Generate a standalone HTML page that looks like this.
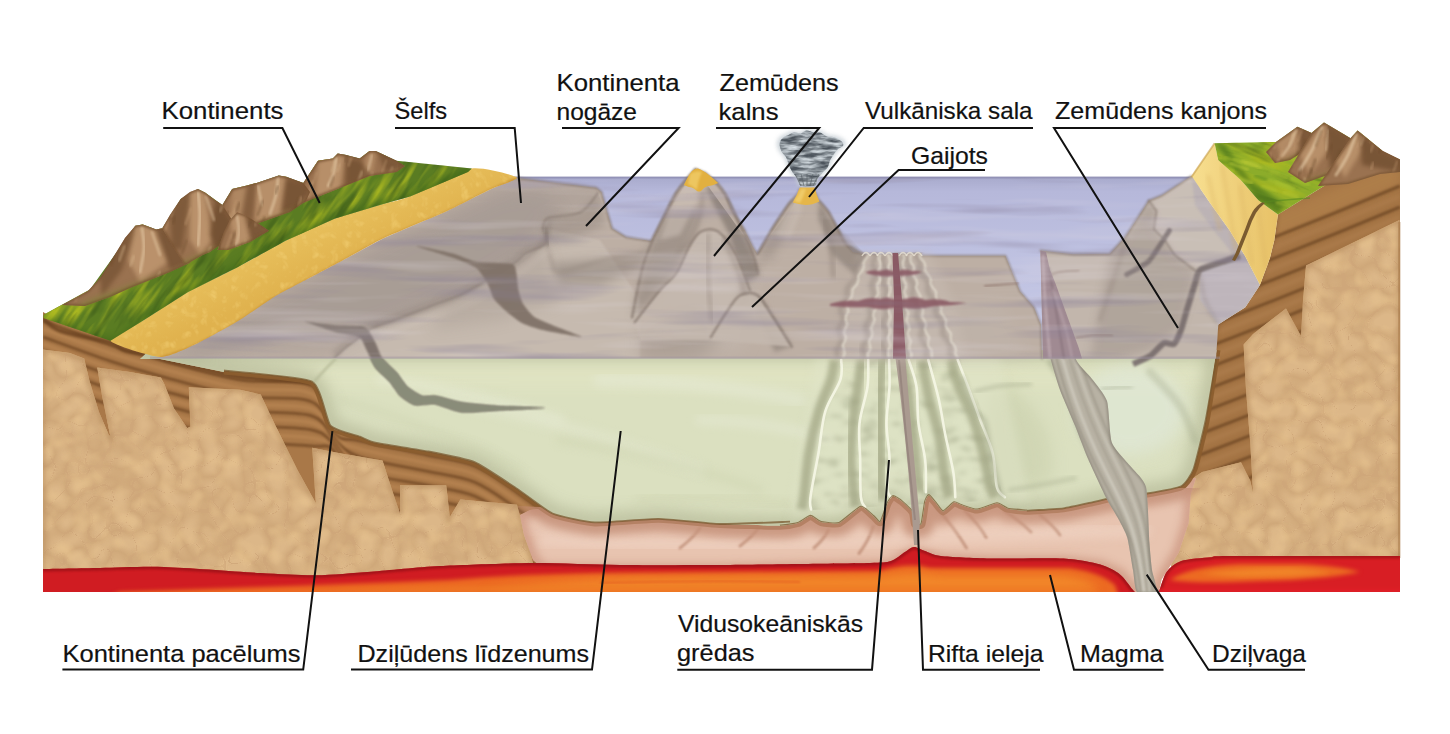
<!DOCTYPE html>
<html><head><meta charset="utf-8">
<style>
html,body{margin:0;padding:0;background:#fff;width:1450px;height:734px;overflow:hidden}
svg{display:block}
text{font-family:"Liberation Sans",sans-serif;font-size:24px;fill:#111;stroke:#111;stroke-width:0.2px}
</style></head>
<body>
<svg width="1450" height="734" viewBox="0 0 1450 734">
<rect width="1450" height="734" fill="#fff"/>
<defs>
<linearGradient id="gMagL" gradientUnits="userSpaceOnUse" x1="0" y1="546" x2="0" y2="592">
 <stop offset="0" stop-color="#a8141c"/><stop offset="0.45" stop-color="#c81a22"/><stop offset="0.62" stop-color="#d82a20"/><stop offset="0.8" stop-color="#ea6a22"/><stop offset="1" stop-color="#f07c26"/></linearGradient>
<linearGradient id="gMagM" gradientUnits="userSpaceOnUse" x1="0" y1="556" x2="0" y2="592">
 <stop offset="0" stop-color="#b0161c"/><stop offset="0.18" stop-color="#d62a20"/><stop offset="0.42" stop-color="#ee7424"/><stop offset="0.7" stop-color="#f28a28"/><stop offset="0.92" stop-color="#ee7a24"/><stop offset="1" stop-color="#e25a20"/></linearGradient>
<linearGradient id="gMagR" gradientUnits="userSpaceOnUse" x1="0" y1="556" x2="0" y2="592">
 <stop offset="0" stop-color="#b0161c"/><stop offset="0.15" stop-color="#d8221e"/><stop offset="0.45" stop-color="#ec6a24"/><stop offset="0.65" stop-color="#e84a22"/><stop offset="1" stop-color="#e01e24"/></linearGradient>
<linearGradient id="gMagX" gradientUnits="userSpaceOnUse" x1="43" y1="0" x2="1400" y2="0">
 <stop offset="0" stop-color="#c8161e" stop-opacity="0.85"/><stop offset="0.15" stop-color="#c8161e" stop-opacity="0.6"/><stop offset="0.3" stop-color="#c8161e" stop-opacity="0"/><stop offset="1" stop-color="#c8161e" stop-opacity="0"/></linearGradient>
<linearGradient id="gWater" gradientUnits="userSpaceOnUse" x1="0" y1="177" x2="0" y2="358">
 <stop offset="0" stop-color="#a8aacc"/><stop offset="0.08" stop-color="#b6b8da"/><stop offset="0.5" stop-color="#c0c3e2"/><stop offset="1" stop-color="#c4c7e5"/></linearGradient>
<linearGradient id="gPink" gradientUnits="userSpaceOnUse" x1="0" y1="505" x2="0" y2="565">
 <stop offset="0" stop-color="#b88068"/><stop offset="0.22" stop-color="#dcae98"/><stop offset="0.55" stop-color="#eac8b6"/><stop offset="0.85" stop-color="#e6c0ac"/><stop offset="1" stop-color="#d0a08a"/></linearGradient>
<linearGradient id="gSand" gradientUnits="userSpaceOnUse" x1="300" y1="230" x2="320" y2="275">
 <stop offset="0" stop-color="#e8c05c"/><stop offset="1" stop-color="#e0b24e"/></linearGradient>
<linearGradient id="gCliff" gradientUnits="userSpaceOnUse" x1="1200" y1="0" x2="1275" y2="0">
 <stop offset="0" stop-color="#f6dc8c"/><stop offset="1" stop-color="#e8c268"/></linearGradient>
<filter color-interpolation-filters="sRGB" id="b1" x="-20%" y="-20%" width="140%" height="140%"><feGaussianBlur stdDeviation="1"/></filter>
<filter color-interpolation-filters="sRGB" id="b2" x="-20%" y="-20%" width="140%" height="140%"><feGaussianBlur stdDeviation="2"/></filter>
<filter color-interpolation-filters="sRGB" id="b4" x="-30%" y="-30%" width="160%" height="160%"><feGaussianBlur stdDeviation="4"/></filter>
<filter color-interpolation-filters="sRGB" id="b8" x="-30%" y="-30%" width="160%" height="160%"><feGaussianBlur stdDeviation="8"/></filter>
<filter color-interpolation-filters="sRGB" id="tanTex" x="0" y="0" width="100%" height="100%" filterUnits="userSpaceOnUse">
 <feTurbulence type="fractalNoise" baseFrequency="0.055" numOctaves="2" seed="11" result="n"/>
 <feColorMatrix in="n" type="matrix" values="0 0 0 0 0.92  0 0 0 0 0.78  0 0 0 0 0.57  1.4 0 0 0 -0.6" result="hi"/>
 <feComposite in="hi" in2="SourceAlpha" operator="in" result="hic"/>
 <feTurbulence type="turbulence" baseFrequency="0.045" numOctaves="1" seed="5" result="n2"/>
 <feColorMatrix in="n2" type="matrix" values="0 0 0 0 0.76  0 0 0 0 0.60  0 0 0 0 0.42  -1.3 0 0 0 0.5" result="lo"/>
 <feComposite in="lo" in2="SourceAlpha" operator="in" result="loc"/>
 <feMerge><feMergeNode in="SourceGraphic"/><feMergeNode in="loc"/><feMergeNode in="hic"/></feMerge>
</filter>
<filter color-interpolation-filters="sRGB" id="sandTex" x="0" y="0" width="100%" height="100%" filterUnits="userSpaceOnUse">
 <feTurbulence type="turbulence" baseFrequency="0.1" numOctaves="2" seed="3" result="n"/>
 <feColorMatrix in="n" type="matrix" values="0 0 0 0 0.96  0 0 0 0 0.83  0 0 0 0 0.48  1.1 0 0 0 -0.3" result="hi"/>
 <feComposite in="hi" in2="SourceAlpha" operator="in" result="hic"/>
 <feMerge><feMergeNode in="SourceGraphic"/><feMergeNode in="hic"/></feMerge>
</filter>
<filter color-interpolation-filters="sRGB" id="smokeTex" x="0" y="0" width="100%" height="100%" filterUnits="userSpaceOnUse">
 <feTurbulence type="fractalNoise" baseFrequency="0.06 0.28" numOctaves="3" seed="9" result="n"/>
 <feColorMatrix in="n" type="matrix" values="0 0 0 0 0.30  0 0 0 0 0.33  0 0 0 0 0.36  -3 0 0 0 1.75" result="dk"/>
 <feComposite in="dk" in2="SourceAlpha" operator="in" result="dkc"/>
 <feColorMatrix in="n" type="matrix" values="0 0 0 0 0.88  0 0 0 0 0.91  0 0 0 0 0.93  3 0 0 0 -1.6" result="lt"/>
 <feComposite in="lt" in2="SourceAlpha" operator="in" result="ltc"/>
 <feMerge><feMergeNode in="SourceGraphic"/><feMergeNode in="dkc"/><feMergeNode in="ltc"/></feMerge>
</filter>
<linearGradient id="gGrass" gradientUnits="userSpaceOnUse" x1="300" y1="190" x2="330" y2="250">
 <stop offset="0" stop-color="#86a828"/><stop offset="0.6" stop-color="#6a9624"/><stop offset="1" stop-color="#4c7a1c"/></linearGradient>
<filter color-interpolation-filters="sRGB" id="streakDark" filterUnits="userSpaceOnUse" x="150" y="177" width="1120" height="182">
 <feTurbulence type="fractalNoise" baseFrequency="0.005 0.06" numOctaves="3" seed="21" result="n"/>
 <feColorMatrix in="n" type="matrix" values="0 0 0 0 0.54  0 0 0 0 0.50  0 0 0 0 0.60  -1.3 0 0 0 0.62"/>
</filter>
<filter color-interpolation-filters="sRGB" id="streakLight" filterUnits="userSpaceOnUse" x="150" y="177" width="1120" height="182">
 <feTurbulence type="fractalNoise" baseFrequency="0.005 0.07" numOctaves="3" seed="4" result="n"/>
 <feColorMatrix in="n" type="matrix" values="0 0 0 0 0.88  0 0 0 0 0.85  0 0 0 0 0.88  0.9 0 0 0 -0.46"/>
</filter>
<clipPath id="cShelf"><path d="M150,358 L196,344 L268,296 L384,238 L490,189.5 L516.8,178 L596,188 L612,228 L651,241 L695,168 L757,254 L806,188 L865,254 L1005,256 L1042,358 Z"/></clipPath>
<linearGradient id="gMtn" gradientUnits="objectBoundingBox" x1="0" y1="0" x2="1" y2="1">
 <stop offset="0" stop-color="#b08a62"/><stop offset="0.5" stop-color="#9c7450"/><stop offset="1" stop-color="#7a5634"/></linearGradient>
<filter color-interpolation-filters="sRGB" id="grassHi" filterUnits="userSpaceOnUse" x="0" y="100" width="600" height="300">
 <feTurbulence type="fractalNoise" baseFrequency="0.015 0.09" numOctaves="3" seed="17" result="n"/>
 <feColorMatrix in="n" type="matrix" values="0 0 0 0 0.68  0 0 0 0 0.73  0 0 0 0 0.13  2.6 0 0 0 -1.15"/>
</filter>
<filter color-interpolation-filters="sRGB" id="grassLo" filterUnits="userSpaceOnUse" x="0" y="100" width="600" height="300">
 <feTurbulence type="fractalNoise" baseFrequency="0.02 0.1" numOctaves="3" seed="31" result="n"/>
 <feColorMatrix in="n" type="matrix" values="0 0 0 0 0.24  0 0 0 0 0.36  0 0 0 0 0.10  -2.4 0 0 0 1.15"/>
</filter>
<filter color-interpolation-filters="sRGB" id="ridgeTex" filterUnits="userSpaceOnUse" x="780" y="350" width="260" height="190">
 <feTurbulence type="fractalNoise" baseFrequency="0.05 0.14" numOctaves="3" seed="41" result="n"/>
 <feColorMatrix in="n" type="matrix" values="0 0 0 0 0.58  0 0 0 0 0.60  0 0 0 0 0.48  -1.8 0 0 0 0.85" result="d"/>
 <feGaussianBlur in="d" stdDeviation="2" result="db"/>
 <feComposite in="db" in2="SourceAlpha" operator="in"/>
</filter>
<clipPath id="cUnder"><rect x="510" y="177" width="690" height="181.5"/><path d="M150,358.5 L160,357 L196,344 L235,320 L268,296 L310.7,277.3 L347.5,257.7 L384,238 L445,212 L490,189.5 L516.8,178 L540,181.5 L600,190 L620,358.5 Z"/><path d="M1040.4,250.6 L1073,254.2 L1108.5,253.3 L1122.7,240 L1129,226.9 L1150.4,200.3 L1171.6,191.4 L1191.6,176 L1210,203 L1230,231 L1245,256 L1260,285 L1245.3,307.2 L1218.3,324.4 L1216,358.5 L1043,358.5 Z"/></clipPath>
<clipPath id="cBelow"><rect x="0" y="358.5" width="1450" height="400"/></clipPath>
</defs>
<rect x="510" y="177" width="690" height="182" fill="url(#gWater)"/>
<rect x="510" y="176.5" width="690" height="2" fill="#8c8cb2" opacity="0.8"/>
<path d="M43.0,312.0 L61.0,322.0 L110.0,336.0 L125.0,344.0 L154.0,350.0 L167.0,354.0 L203.0,362.0 L240.0,369.0 L312.0,379.0 L321.5,390.7 L328.7,410.4 L334.0,430.0 L360.0,436.7 L375.4,442.7 L428.5,451.5 L474.6,462.2 L517.0,488.7 L552.5,513.5 L560.0,530.0 L540.0,566.0 L43.0,574.0 Z" fill="#a97848"/>
<clipPath id="cBrL"><path d="M43.0,312.0 L61.0,322.0 L110.0,336.0 L125.0,344.0 L154.0,350.0 L167.0,354.0 L203.0,362.0 L240.0,369.0 L312.0,379.0 L321.5,390.7 L328.7,410.4 L334.0,430.0 L360.0,436.7 L375.4,442.7 L428.5,451.5 L474.6,462.2 L517.0,488.7 L552.5,513.5 L560.0,530.0 L540.0,566.0 L43.0,574.0 Z"/></clipPath>
<g clip-path="url(#cBrL)">
<path d="M43.0,321.0 C54.2,325.0 90.5,338.5 110.0,345.0 C129.5,351.5 138.3,354.2 160.0,360.0 C181.7,365.8 214.7,375.7 240.0,380.0 C265.3,384.3 296.3,377.1 312.0,386.0 C327.7,394.9 326.0,424.0 334.0,433.2 C342.0,442.4 344.2,437.3 360.0,441.0 C375.8,444.7 409.4,451.3 428.5,455.5 C447.6,459.7 459.9,460.0 474.6,466.2 C489.4,472.4 502.8,483.1 517.0,492.7 C531.2,502.3 552.8,518.8 560.0,524.0" fill="none" stroke="#6a4220" stroke-width="3" opacity="0.7" filter="url(#b1)"/>
<path d="M43.0,329.0 C54.2,333.0 90.5,346.5 110.0,353.0 C129.5,359.5 138.3,362.2 160.0,368.0 C181.7,373.8 214.7,383.7 240.0,388.0 C265.3,392.3 296.3,386.1 312.0,394.0 C327.7,401.9 326.0,426.4 334.0,435.6 C342.0,444.8 344.2,444.4 360.0,449.0 C375.8,453.6 409.4,459.3 428.5,463.5 C447.6,467.7 459.9,468.0 474.6,474.2 C489.4,480.4 502.8,491.1 517.0,500.7 C531.2,510.3 552.8,526.8 560.0,532.0" fill="none" stroke="#c08c58" stroke-width="4" opacity="0.45" filter="url(#b1)"/>
<path d="M43.0,337.0 C54.2,341.0 90.5,354.5 110.0,361.0 C129.5,367.5 138.3,370.2 160.0,376.0 C181.7,381.8 214.7,391.7 240.0,396.0 C265.3,400.3 296.3,395.0 312.0,402.0 C327.7,409.0 326.0,428.8 334.0,438.0 C342.0,447.2 344.2,451.4 360.0,457.0 C375.8,462.6 409.4,467.3 428.5,471.5 C447.6,475.7 459.9,476.0 474.6,482.2 C489.4,488.4 502.8,499.1 517.0,508.7 C531.2,518.3 552.8,534.8 560.0,540.0" fill="none" stroke="#6a4220" stroke-width="3" opacity="0.7" filter="url(#b1)"/>
<path d="M43.0,344.0 C54.2,348.0 90.5,361.5 110.0,368.0 C129.5,374.5 138.3,377.2 160.0,383.0 C181.7,388.8 214.7,398.7 240.0,403.0 C265.3,407.3 296.3,402.8 312.0,409.0 C327.7,415.2 326.0,430.9 334.0,440.1 C342.0,449.3 344.2,457.6 360.0,464.0 C375.8,470.4 409.4,474.3 428.5,478.5 C447.6,482.7 459.9,483.0 474.6,489.2 C489.4,495.4 502.8,506.1 517.0,515.7 C531.2,525.3 552.8,541.8 560.0,547.0" fill="none" stroke="#c08c58" stroke-width="4" opacity="0.45" filter="url(#b1)"/>
<path d="M43.0,351.0 C54.2,355.0 90.5,368.5 110.0,375.0 C129.5,381.5 138.3,384.2 160.0,390.0 C181.7,395.8 214.7,405.7 240.0,410.0 C265.3,414.3 296.3,410.6 312.0,416.0 C327.7,421.4 326.0,433.0 334.0,442.2 C342.0,451.4 344.2,463.8 360.0,471.0 C375.8,478.2 409.4,481.3 428.5,485.5 C447.6,489.7 459.9,490.0 474.6,496.2 C489.4,502.4 502.8,513.1 517.0,522.7 C531.2,532.3 552.8,548.8 560.0,554.0" fill="none" stroke="#6a4220" stroke-width="3" opacity="0.7" filter="url(#b1)"/>
<path d="M43.0,358.0 C54.2,362.0 90.5,375.5 110.0,382.0 C129.5,388.5 138.3,391.2 160.0,397.0 C181.7,402.8 214.7,412.7 240.0,417.0 C265.3,421.3 296.3,418.4 312.0,423.0 C327.7,427.6 326.0,435.1 334.0,444.3 C342.0,453.5 344.2,470.0 360.0,478.0 C375.8,486.0 409.4,488.3 428.5,492.5 C447.6,496.7 459.9,497.0 474.6,503.2 C489.4,509.4 502.8,520.1 517.0,529.7 C531.2,539.3 552.8,555.8 560.0,561.0" fill="none" stroke="#c08c58" stroke-width="4" opacity="0.45" filter="url(#b1)"/>
<path d="M43.0,365.0 C54.2,369.0 90.5,382.5 110.0,389.0 C129.5,395.5 138.3,398.2 160.0,404.0 C181.7,409.8 214.7,419.7 240.0,424.0 C265.3,428.3 296.3,426.3 312.0,430.0 C327.7,433.7 326.0,437.2 334.0,446.4 C342.0,455.6 344.2,476.1 360.0,485.0 C375.8,493.9 409.4,495.3 428.5,499.5 C447.6,503.7 459.9,504.0 474.6,510.2 C489.4,516.4 502.8,527.1 517.0,536.7 C531.2,546.3 552.8,562.8 560.0,568.0" fill="none" stroke="#6a4220" stroke-width="3" opacity="0.7" filter="url(#b1)"/>
<path d="M43.0,373.0 C54.2,377.0 90.5,390.5 110.0,397.0 C129.5,403.5 138.3,406.2 160.0,412.0 C181.7,417.8 214.7,427.7 240.0,432.0 C265.3,436.3 296.3,435.2 312.0,438.0 C327.7,440.8 326.0,439.6 334.0,448.8 C342.0,458.0 344.2,483.2 360.0,493.0 C375.8,502.8 409.4,503.3 428.5,507.5 C447.6,511.7 459.9,512.0 474.6,518.2 C489.4,524.4 502.8,535.1 517.0,544.7 C531.2,554.3 552.8,570.8 560.0,576.0" fill="none" stroke="#c08c58" stroke-width="4" opacity="0.45" filter="url(#b1)"/>
<path d="M43.0,381.0 C54.2,385.0 90.5,398.5 110.0,405.0 C129.5,411.5 138.3,414.2 160.0,420.0 C181.7,425.8 214.7,435.7 240.0,440.0 C265.3,444.3 296.3,444.1 312.0,446.0 C327.7,447.9 326.0,442.0 334.0,451.2 C342.0,460.4 344.2,490.3 360.0,501.0 C375.8,511.7 409.4,511.3 428.5,515.5 C447.6,519.7 459.9,520.0 474.6,526.2 C489.4,532.4 502.8,543.1 517.0,552.7 C531.2,562.3 552.8,578.8 560.0,584.0" fill="none" stroke="#6a4220" stroke-width="3" opacity="0.7" filter="url(#b1)"/>
<path d="M43.0,318.0 C46.0,320.2 49.8,326.9 61.0,331.0 C72.2,335.1 99.6,339.1 110.3,342.4 C121.0,345.7 117.6,348.4 125.0,350.6 C132.4,352.8 147.4,353.9 154.5,355.5 C161.6,357.1 159.4,358.2 167.6,360.4 C175.8,362.6 191.4,365.9 203.5,368.6 C215.6,371.3 221.9,374.5 240.0,376.8 C258.1,379.1 300.0,381.6 312.0,382.5" fill="none" stroke="#6a4220" stroke-width="4" opacity="0.8" filter="url(#b1)"/>
</g>
<path d="M43.0,349.6 L70.0,353.0 L84.2,358.6 L89.0,379.0 L98.9,411.8 L108.7,434.7 L110.3,436.3 L102.0,395.4 L97.2,367.6 L130.0,372.0 L161.0,377.4 L164.3,384.0 L174.0,408.5 L187.2,428.0 L190.4,426.5 L188.8,387.2 L240.0,389.7 L260.7,394.4 L275.4,425.6 L297.4,469.8 L315.8,502.9 L312.2,447.7 L340.0,453.3 L382.5,460.4 L392.0,490.0 L400.0,513.5 L400.0,485.2 L446.2,485.2 L449.8,517.0 L460.4,499.4 L517.0,504.7 L525.0,535.0 L533.0,563.0 L533.0,575.0 L446.0,575.0 L371.0,578.0 L316.0,580.0 L260.0,578.0 L164.0,575.0 L43.0,575.0 Z" fill="#dcb788" filter="url(#tanTex)"/>
<clipPath id="cTanL"><path d="M43.0,349.6 L70.0,353.0 L84.2,358.6 L89.0,379.0 L98.9,411.8 L108.7,434.7 L110.3,436.3 L102.0,395.4 L97.2,367.6 L130.0,372.0 L161.0,377.4 L164.3,384.0 L174.0,408.5 L187.2,428.0 L190.4,426.5 L188.8,387.2 L240.0,389.7 L260.7,394.4 L275.4,425.6 L297.4,469.8 L315.8,502.9 L312.2,447.7 L340.0,453.3 L382.5,460.4 L392.0,490.0 L400.0,513.5 L400.0,485.2 L446.2,485.2 L449.8,517.0 L460.4,499.4 L517.0,504.7 L525.0,535.0 L533.0,563.0 L533.0,575.0 L446.0,575.0 L371.0,578.0 L316.0,580.0 L260.0,578.0 L164.0,575.0 L43.0,575.0 Z"/></clipPath>
<g clip-path="url(#cTanL)">
<path d="M43.0,349.6 L70.0,353.0 L84.2,358.6 L89.0,379.0 L98.9,411.8 L108.7,434.7 L110.3,436.3 L102.0,395.4 L97.2,367.6 L130.0,372.0 L161.0,377.4 L164.3,384.0 L174.0,408.5 L187.2,428.0 L190.4,426.5 L188.8,387.2 L240.0,389.7 L260.7,394.4 L275.4,425.6 L297.4,469.8 L315.8,502.9 L312.2,447.7 L340.0,453.3 L382.5,460.4 L392.0,490.0 L400.0,513.5 L400.0,485.2 L446.2,485.2 L449.8,517.0 L460.4,499.4 L517.0,504.7 L525.0,535.0 L533.0,563.0 L533.0,575.0 L446.0,575.0 L371.0,578.0 L316.0,580.0 L260.0,578.0 L164.0,575.0 L43.0,575.0 Z" fill="none" stroke="#b48a5c" stroke-width="5" opacity="0.55" filter="url(#b2)"/>
</g>
<path d="M1278.0,214.5 L1338.0,177.3 L1382.4,151.6 L1400.0,159.6 L1400.0,560.0 L1175.0,560.0 L1180.0,474.0 L1196.0,420.0 L1210.0,358.0 L1218.3,324.4 L1245.3,307.2 L1260.0,285.0 L1269.9,258.2 L1274.4,240.0 Z" fill="#a47444"/>
<clipPath id="cBrR"><path d="M1278.0,214.5 L1338.0,177.3 L1382.4,151.6 L1400.0,159.6 L1400.0,560.0 L1175.0,560.0 L1180.0,474.0 L1196.0,420.0 L1210.0,358.0 L1218.3,324.4 L1245.3,307.2 L1260.0,285.0 L1269.9,258.2 L1274.4,240.0 Z"/></clipPath>
<g clip-path="url(#cBrR)">
<path d="M1270,215 L1400,160 L1400,185 L1270,240 Z" fill="#b4844e" opacity="0.6" filter="url(#b4)"/>
<path d="M1200,266.0 Q1300,228.0 1400,186.0" fill="none" stroke="#6a4422" stroke-width="3" opacity="0.75" filter="url(#b1)"/>
<path d="M1200,276.0 Q1300,238.0 1400,196.0" fill="none" stroke="#c09060" stroke-width="4" opacity="0.35" filter="url(#b2)"/>
<path d="M1200,287.0 Q1300,249.0 1400,207.0" fill="none" stroke="#6a4422" stroke-width="3" opacity="0.75" filter="url(#b1)"/>
<path d="M1200,297.0 Q1300,259.0 1400,217.0" fill="none" stroke="#c09060" stroke-width="4" opacity="0.35" filter="url(#b2)"/>
<path d="M1200,308.0 Q1300,270.0 1400,228.0" fill="none" stroke="#6a4422" stroke-width="3" opacity="0.75" filter="url(#b1)"/>
<path d="M1200,318.0 Q1300,280.0 1400,238.0" fill="none" stroke="#c09060" stroke-width="4" opacity="0.35" filter="url(#b2)"/>
<path d="M1200,329.0 Q1300,291.0 1400,249.0" fill="none" stroke="#6a4422" stroke-width="3" opacity="0.75" filter="url(#b1)"/>
<path d="M1200,339.0 Q1300,301.0 1400,259.0" fill="none" stroke="#c09060" stroke-width="4" opacity="0.35" filter="url(#b2)"/>
<path d="M1200,350.0 Q1300,312.0 1400,270.0" fill="none" stroke="#6a4422" stroke-width="3" opacity="0.75" filter="url(#b1)"/>
<path d="M1200,360.0 Q1300,322.0 1400,280.0" fill="none" stroke="#c09060" stroke-width="4" opacity="0.35" filter="url(#b2)"/>
<path d="M1200,371.0 Q1300,333.0 1400,291.0" fill="none" stroke="#6a4422" stroke-width="3" opacity="0.75" filter="url(#b1)"/>
<path d="M1200,381.0 Q1300,343.0 1400,301.0" fill="none" stroke="#c09060" stroke-width="4" opacity="0.35" filter="url(#b2)"/>
<path d="M1200,392.0 Q1300,354.0 1400,312.0" fill="none" stroke="#6a4422" stroke-width="3" opacity="0.75" filter="url(#b1)"/>
<path d="M1200,402.0 Q1300,364.0 1400,322.0" fill="none" stroke="#c09060" stroke-width="4" opacity="0.35" filter="url(#b2)"/>
<path d="M1200,413.0 Q1300,375.0 1400,333.0" fill="none" stroke="#6a4422" stroke-width="3" opacity="0.75" filter="url(#b1)"/>
<path d="M1200,423.0 Q1300,385.0 1400,343.0" fill="none" stroke="#c09060" stroke-width="4" opacity="0.35" filter="url(#b2)"/>
<path d="M1200,434.0 Q1300,396.0 1400,354.0" fill="none" stroke="#6a4422" stroke-width="3" opacity="0.75" filter="url(#b1)"/>
<path d="M1200,444.0 Q1300,406.0 1400,364.0" fill="none" stroke="#c09060" stroke-width="4" opacity="0.35" filter="url(#b2)"/>
<path d="M1200,455.0 Q1300,417.0 1400,375.0" fill="none" stroke="#6a4422" stroke-width="3" opacity="0.75" filter="url(#b1)"/>
<path d="M1200,465.0 Q1300,427.0 1400,385.0" fill="none" stroke="#c09060" stroke-width="4" opacity="0.35" filter="url(#b2)"/>
<path d="M1200,476.0 Q1300,438.0 1400,396.0" fill="none" stroke="#6a4422" stroke-width="3" opacity="0.75" filter="url(#b1)"/>
<path d="M1200,486.0 Q1300,448.0 1400,406.0" fill="none" stroke="#c09060" stroke-width="4" opacity="0.35" filter="url(#b2)"/>
<path d="M1200,497.0 Q1300,459.0 1400,417.0" fill="none" stroke="#6a4422" stroke-width="3" opacity="0.75" filter="url(#b1)"/>
<path d="M1200,507.0 Q1300,469.0 1400,427.0" fill="none" stroke="#c09060" stroke-width="4" opacity="0.35" filter="url(#b2)"/>
<path d="M1270,215 L1278,214.5 L1274,240 L1260,285 L1218,325 L1205,420 L1193,474 L1185,474 L1200,420 L1210,325 L1250,285 Z" fill="#6a4422" opacity="0.5" filter="url(#b2)"/>
</g>
<path d="M1306.0,265.6 L1399.4,220.0 L1400.0,575.0 L1170.0,578.0 L1178.0,488.6 L1202.0,472.0 L1241.0,462.3 L1250.0,480.0 L1253.0,492.0 L1250.0,440.0 L1246.0,390.0 L1243.6,344.5 L1253.0,334.0 L1286.0,308.4 L1301.0,336.0 L1303.0,300.0 Z" fill="#dcb788" filter="url(#tanTex)"/>
<clipPath id="cTanR"><path d="M1306.0,265.6 L1399.4,220.0 L1400.0,575.0 L1170.0,578.0 L1178.0,488.6 L1202.0,472.0 L1241.0,462.3 L1250.0,480.0 L1253.0,492.0 L1250.0,440.0 L1246.0,390.0 L1243.6,344.5 L1253.0,334.0 L1286.0,308.4 L1301.0,336.0 L1303.0,300.0 Z"/></clipPath>
<g clip-path="url(#cTanR)">
<path d="M1306.0,265.6 L1399.4,220.0 L1400.0,575.0 L1170.0,578.0 L1178.0,488.6 L1202.0,472.0 L1241.0,462.3 L1250.0,480.0 L1253.0,492.0 L1250.0,440.0 L1246.0,390.0 L1243.6,344.5 L1253.0,334.0 L1286.0,308.4 L1301.0,336.0 L1303.0,300.0 Z" fill="none" stroke="#b48a5c" stroke-width="5" opacity="0.5" filter="url(#b2)"/>
</g>
<rect x="1398" y="222" width="2.5" height="336" fill="#a87a4a" opacity="0.5"/>
<path d="M530.0,510.0 L600.0,500.0 L1040.0,490.0 L1146.0,478.0 L1196.0,478.0 L1190.8,493.7 L1188.6,523.0 L1178.8,552.4 L1161.6,579.4 L1159.0,592.0 L1134.0,592.0 L1132.0,589.0 L1120.0,574.4 L1100.3,566.0 L1063.5,562.0 L990.0,562.0 L940.8,560.0 L914.0,551.0 L891.0,566.0 L720.0,570.0 L620.0,570.0 L545.0,570.0 L533.0,560.0 L524.0,535.0 L520.0,515.0 Z" fill="#e8c4b0"/>
<clipPath id="cPink"><path d="M530.0,510.0 L600.0,500.0 L1040.0,490.0 L1146.0,478.0 L1196.0,478.0 L1190.8,493.7 L1188.6,523.0 L1178.8,552.4 L1161.6,579.4 L1159.0,592.0 L1134.0,592.0 L1132.0,589.0 L1120.0,574.4 L1100.3,566.0 L1063.5,562.0 L990.0,562.0 L940.8,560.0 L914.0,551.0 L891.0,566.0 L720.0,570.0 L620.0,570.0 L545.0,570.0 L533.0,560.0 L524.0,535.0 L520.0,515.0 Z"/></clipPath>
<g clip-path="url(#cPink)">
<path d="M530.0,510.0 L600.0,500.0 L1040.0,490.0 L1146.0,478.0 L1196.0,478.0 L1190.8,493.7 L1188.6,523.0 L1178.8,552.4 L1161.6,579.4 L1159.0,592.0 L1134.0,592.0 L1132.0,589.0 L1120.0,574.4 L1100.3,566.0 L1063.5,562.0 L990.0,562.0 L940.8,560.0 L914.0,551.0 L891.0,566.0 L720.0,570.0 L620.0,570.0 L545.0,570.0 L533.0,560.0 L524.0,535.0 L520.0,515.0 Z" fill="none" stroke="#c8907a" stroke-width="12" opacity="0.7" filter="url(#b4)"/>
<path d="M540,540 Q700,548 880,540 Q1000,535 1150,530" fill="none" stroke="#f0d4c4" stroke-width="14" opacity="0.6" filter="url(#b4)"/>
</g>
<path d="M828.4,530.2 Q824.2,539.1 814,548" fill="none" stroke="#b07a62" stroke-width="3" opacity="0.6" stroke-linecap="round" filter="url(#b1)"/>
<path d="M873.2,526.6 Q869.1,540.05 859,553.5" fill="none" stroke="#b07a62" stroke-width="3" opacity="0.6" stroke-linecap="round" filter="url(#b1)"/>
<path d="M936,507 Q954.25,527.5 966.5,548" fill="none" stroke="#b07a62" stroke-width="3" opacity="0.6" stroke-linecap="round" filter="url(#b1)"/>
<path d="M964.7,510.5 Q978.45,523.95 986.2,537.4" fill="none" stroke="#b07a62" stroke-width="3" opacity="0.6" stroke-linecap="round" filter="url(#b1)"/>
<path d="M1004,510.5 Q1020.5,521.25 1031,532" fill="none" stroke="#b07a62" stroke-width="3" opacity="0.6" stroke-linecap="round" filter="url(#b1)"/>
<path d="M700,528 Q693.0,538.0 680,548" fill="none" stroke="#b07a62" stroke-width="3" opacity="0.6" stroke-linecap="round" filter="url(#b1)"/>
<path d="M760,526 Q753.0,536.0 740,546" fill="none" stroke="#b07a62" stroke-width="3" opacity="0.6" stroke-linecap="round" filter="url(#b1)"/>
<path d="M1040,515 Q1053.0,525.0 1060,535" fill="none" stroke="#b07a62" stroke-width="3" opacity="0.6" stroke-linecap="round" filter="url(#b1)"/>
<path d="M530,525 Q700,535 900,530 Q1000,528 1100,520" fill="none" stroke="#f2d8c8" stroke-width="10" opacity="0.35" filter="url(#b8)"/>
<path d="M1216.5,350.0 C1215.6,355.8 1207.6,410.1 1205.7,420.0 C1203.8,429.9 1195.5,463.5 1193.5,469.0 C1191.5,474.5 1185.1,484.2 1181.2,486.2 C1177.3,488.2 1152.9,492.5 1147.0,493.5 C1141.1,494.5 1114.5,497.7 1110.0,498.4 C1105.5,499.1 1096.9,501.3 1093.0,502.1 C1089.1,502.9 1069.0,507.6 1063.5,508.3 C1058.0,509.0 1031.5,510.7 1026.8,510.7 C1022.1,510.7 1010.2,509.3 1007.7,508.7 C1005.2,508.1 999.5,503.2 997.0,503.3 C994.5,503.4 980.2,509.5 977.2,509.6 C974.2,509.8 963.0,505.7 961.1,505.1 C959.2,504.5 955.5,501.9 954.0,502.4 C952.5,502.9 944.7,511.3 943.2,511.4 C941.7,511.5 937.2,504.7 936.0,503.3 C934.8,501.9 929.7,495.3 928.8,495.2 C927.9,495.1 925.8,499.1 925.2,501.5 C924.6,503.9 922.4,522.1 921.5,524.0 C920.6,525.9 915.7,525.0 915.0,524.0 C914.3,523.0 913.8,514.2 912.7,512.3 C911.6,510.4 903.6,502.9 902.0,501.5 C900.4,500.1 894.2,496.0 893.0,496.1 C891.8,496.2 888.6,501.1 887.6,503.3 C886.6,505.5 881.6,521.1 880.4,522.1 C879.2,523.1 874.8,517.2 873.2,515.9 C871.6,514.6 863.5,506.3 860.7,506.9 C857.9,507.5 842.5,521.7 839.2,523.0 C835.9,524.3 823.6,522.7 821.2,522.1 C818.8,521.5 812.4,515.8 810.5,515.9 C808.6,516.0 800.5,522.2 798.0,523.0 C795.5,523.8 786.5,525.6 780.0,525.7 C773.5,525.8 730.1,524.6 720.0,524.0 C709.9,523.4 669.1,518.9 658.7,518.8 C648.3,518.7 603.9,522.8 595.0,522.4 C586.1,522.0 559.0,516.3 552.5,513.5 C546.0,510.7 523.5,493.0 517.0,488.7 C510.5,484.4 482.0,465.3 474.6,462.2 C467.2,459.1 436.8,453.1 428.5,451.5 C420.2,449.9 381.1,443.9 375.4,442.7 C369.7,441.5 363.7,438.1 360.0,436.7 C356.3,435.3 334.5,430.2 330.5,425.6 C326.5,421.0 320.9,386.1 312.0,381.5 C303.1,376.9 231.3,371.4 224.0,370.5" fill="none" stroke="#8a5c2e" stroke-width="8" opacity="0.9"/>
<clipPath id="cPinkBand"><path d="M518,506 L560,508 L1180,488 L1200,488 L1200,600 L518,600 Z"/></clipPath>
<g clip-path="url(#cPinkBand)">
<path d="M150,350 L1216.5,350  C1215.6,355.8 1207.6,410.1 1205.7,420.0 C1203.8,429.9 1195.5,463.5 1193.5,469.0 C1191.5,474.5 1185.1,484.2 1181.2,486.2 C1177.3,488.2 1152.9,492.5 1147.0,493.5 C1141.1,494.5 1114.5,497.7 1110.0,498.4 C1105.5,499.1 1096.9,501.3 1093.0,502.1 C1089.1,502.9 1069.0,507.6 1063.5,508.3 C1058.0,509.0 1031.5,510.7 1026.8,510.7 C1022.1,510.7 1010.2,509.3 1007.7,508.7 C1005.2,508.1 999.5,503.2 997.0,503.3 C994.5,503.4 980.2,509.5 977.2,509.6 C974.2,509.8 963.0,505.7 961.1,505.1 C959.2,504.5 955.5,501.9 954.0,502.4 C952.5,502.9 944.7,511.3 943.2,511.4 C941.7,511.5 937.2,504.7 936.0,503.3 C934.8,501.9 929.7,495.3 928.8,495.2 C927.9,495.1 925.8,499.1 925.2,501.5 C924.6,503.9 922.4,522.1 921.5,524.0 C920.6,525.9 915.7,525.0 915.0,524.0 C914.3,523.0 913.8,514.2 912.7,512.3 C911.6,510.4 903.6,502.9 902.0,501.5 C900.4,500.1 894.2,496.0 893.0,496.1 C891.8,496.2 888.6,501.1 887.6,503.3 C886.6,505.5 881.6,521.1 880.4,522.1 C879.2,523.1 874.8,517.2 873.2,515.9 C871.6,514.6 863.5,506.3 860.7,506.9 C857.9,507.5 842.5,521.7 839.2,523.0 C835.9,524.3 823.6,522.7 821.2,522.1 C818.8,521.5 812.4,515.8 810.5,515.9 C808.6,516.0 800.5,522.2 798.0,523.0 C795.5,523.8 786.5,525.6 780.0,525.7 C773.5,525.8 730.1,524.6 720.0,524.0 C709.9,523.4 669.1,518.9 658.7,518.8 C648.3,518.7 603.9,522.8 595.0,522.4 C586.1,522.0 559.0,516.3 552.5,513.5 C546.0,510.7 523.5,493.0 517.0,488.7 C510.5,484.4 482.0,465.3 474.6,462.2 C467.2,459.1 436.8,453.1 428.5,451.5 C420.2,449.9 381.1,443.9 375.4,442.7 C369.7,441.5 363.7,438.1 360.0,436.7 C356.3,435.3 334.5,430.2 330.5,425.6 C326.5,421.0 320.9,386.1 312.0,381.5 C303.1,376.9 231.3,371.4 224.0,370.5 L224,372 L160,359 L140,359 L150,350 Z" fill="none" stroke="#c08a72" stroke-width="26" opacity="0.75" filter="url(#b4)"/>
</g>
<path d="M150,350 L1216.5,350  C1215.6,355.8 1207.6,410.1 1205.7,420.0 C1203.8,429.9 1195.5,463.5 1193.5,469.0 C1191.5,474.5 1185.1,484.2 1181.2,486.2 C1177.3,488.2 1152.9,492.5 1147.0,493.5 C1141.1,494.5 1114.5,497.7 1110.0,498.4 C1105.5,499.1 1096.9,501.3 1093.0,502.1 C1089.1,502.9 1069.0,507.6 1063.5,508.3 C1058.0,509.0 1031.5,510.7 1026.8,510.7 C1022.1,510.7 1010.2,509.3 1007.7,508.7 C1005.2,508.1 999.5,503.2 997.0,503.3 C994.5,503.4 980.2,509.5 977.2,509.6 C974.2,509.8 963.0,505.7 961.1,505.1 C959.2,504.5 955.5,501.9 954.0,502.4 C952.5,502.9 944.7,511.3 943.2,511.4 C941.7,511.5 937.2,504.7 936.0,503.3 C934.8,501.9 929.7,495.3 928.8,495.2 C927.9,495.1 925.8,499.1 925.2,501.5 C924.6,503.9 922.4,522.1 921.5,524.0 C920.6,525.9 915.7,525.0 915.0,524.0 C914.3,523.0 913.8,514.2 912.7,512.3 C911.6,510.4 903.6,502.9 902.0,501.5 C900.4,500.1 894.2,496.0 893.0,496.1 C891.8,496.2 888.6,501.1 887.6,503.3 C886.6,505.5 881.6,521.1 880.4,522.1 C879.2,523.1 874.8,517.2 873.2,515.9 C871.6,514.6 863.5,506.3 860.7,506.9 C857.9,507.5 842.5,521.7 839.2,523.0 C835.9,524.3 823.6,522.7 821.2,522.1 C818.8,521.5 812.4,515.8 810.5,515.9 C808.6,516.0 800.5,522.2 798.0,523.0 C795.5,523.8 786.5,525.6 780.0,525.7 C773.5,525.8 730.1,524.6 720.0,524.0 C709.9,523.4 669.1,518.9 658.7,518.8 C648.3,518.7 603.9,522.8 595.0,522.4 C586.1,522.0 559.0,516.3 552.5,513.5 C546.0,510.7 523.5,493.0 517.0,488.7 C510.5,484.4 482.0,465.3 474.6,462.2 C467.2,459.1 436.8,453.1 428.5,451.5 C420.2,449.9 381.1,443.9 375.4,442.7 C369.7,441.5 363.7,438.1 360.0,436.7 C356.3,435.3 334.5,430.2 330.5,425.6 C326.5,421.0 320.9,386.1 312.0,381.5 C303.1,376.9 231.3,371.4 224.0,370.5 L224,372 L160,359 L140,359 L150,350 Z" fill="#dbe0c0"/>
<clipPath id="cGreen"><path d="M150,350 L1216.5,350  C1215.6,355.8 1207.6,410.1 1205.7,420.0 C1203.8,429.9 1195.5,463.5 1193.5,469.0 C1191.5,474.5 1185.1,484.2 1181.2,486.2 C1177.3,488.2 1152.9,492.5 1147.0,493.5 C1141.1,494.5 1114.5,497.7 1110.0,498.4 C1105.5,499.1 1096.9,501.3 1093.0,502.1 C1089.1,502.9 1069.0,507.6 1063.5,508.3 C1058.0,509.0 1031.5,510.7 1026.8,510.7 C1022.1,510.7 1010.2,509.3 1007.7,508.7 C1005.2,508.1 999.5,503.2 997.0,503.3 C994.5,503.4 980.2,509.5 977.2,509.6 C974.2,509.8 963.0,505.7 961.1,505.1 C959.2,504.5 955.5,501.9 954.0,502.4 C952.5,502.9 944.7,511.3 943.2,511.4 C941.7,511.5 937.2,504.7 936.0,503.3 C934.8,501.9 929.7,495.3 928.8,495.2 C927.9,495.1 925.8,499.1 925.2,501.5 C924.6,503.9 922.4,522.1 921.5,524.0 C920.6,525.9 915.7,525.0 915.0,524.0 C914.3,523.0 913.8,514.2 912.7,512.3 C911.6,510.4 903.6,502.9 902.0,501.5 C900.4,500.1 894.2,496.0 893.0,496.1 C891.8,496.2 888.6,501.1 887.6,503.3 C886.6,505.5 881.6,521.1 880.4,522.1 C879.2,523.1 874.8,517.2 873.2,515.9 C871.6,514.6 863.5,506.3 860.7,506.9 C857.9,507.5 842.5,521.7 839.2,523.0 C835.9,524.3 823.6,522.7 821.2,522.1 C818.8,521.5 812.4,515.8 810.5,515.9 C808.6,516.0 800.5,522.2 798.0,523.0 C795.5,523.8 786.5,525.6 780.0,525.7 C773.5,525.8 730.1,524.6 720.0,524.0 C709.9,523.4 669.1,518.9 658.7,518.8 C648.3,518.7 603.9,522.8 595.0,522.4 C586.1,522.0 559.0,516.3 552.5,513.5 C546.0,510.7 523.5,493.0 517.0,488.7 C510.5,484.4 482.0,465.3 474.6,462.2 C467.2,459.1 436.8,453.1 428.5,451.5 C420.2,449.9 381.1,443.9 375.4,442.7 C369.7,441.5 363.7,438.1 360.0,436.7 C356.3,435.3 334.5,430.2 330.5,425.6 C326.5,421.0 320.9,386.1 312.0,381.5 C303.1,376.9 231.3,371.4 224.0,370.5 L224,372 L160,359 L140,359 L150,350 Z"/></clipPath>
<g clip-path="url(#cGreen)">
<rect x="150" y="358" width="1070" height="30" fill="#e4e6c4" opacity="0.5" filter="url(#b8)"/>
<path d="M150,350 L1216.5,350  C1215.6,355.8 1207.6,410.1 1205.7,420.0 C1203.8,429.9 1195.5,463.5 1193.5,469.0 C1191.5,474.5 1185.1,484.2 1181.2,486.2 C1177.3,488.2 1152.9,492.5 1147.0,493.5 C1141.1,494.5 1114.5,497.7 1110.0,498.4 C1105.5,499.1 1096.9,501.3 1093.0,502.1 C1089.1,502.9 1069.0,507.6 1063.5,508.3 C1058.0,509.0 1031.5,510.7 1026.8,510.7 C1022.1,510.7 1010.2,509.3 1007.7,508.7 C1005.2,508.1 999.5,503.2 997.0,503.3 C994.5,503.4 980.2,509.5 977.2,509.6 C974.2,509.8 963.0,505.7 961.1,505.1 C959.2,504.5 955.5,501.9 954.0,502.4 C952.5,502.9 944.7,511.3 943.2,511.4 C941.7,511.5 937.2,504.7 936.0,503.3 C934.8,501.9 929.7,495.3 928.8,495.2 C927.9,495.1 925.8,499.1 925.2,501.5 C924.6,503.9 922.4,522.1 921.5,524.0 C920.6,525.9 915.7,525.0 915.0,524.0 C914.3,523.0 913.8,514.2 912.7,512.3 C911.6,510.4 903.6,502.9 902.0,501.5 C900.4,500.1 894.2,496.0 893.0,496.1 C891.8,496.2 888.6,501.1 887.6,503.3 C886.6,505.5 881.6,521.1 880.4,522.1 C879.2,523.1 874.8,517.2 873.2,515.9 C871.6,514.6 863.5,506.3 860.7,506.9 C857.9,507.5 842.5,521.7 839.2,523.0 C835.9,524.3 823.6,522.7 821.2,522.1 C818.8,521.5 812.4,515.8 810.5,515.9 C808.6,516.0 800.5,522.2 798.0,523.0 C795.5,523.8 786.5,525.6 780.0,525.7 C773.5,525.8 730.1,524.6 720.0,524.0 C709.9,523.4 669.1,518.9 658.7,518.8 C648.3,518.7 603.9,522.8 595.0,522.4 C586.1,522.0 559.0,516.3 552.5,513.5 C546.0,510.7 523.5,493.0 517.0,488.7 C510.5,484.4 482.0,465.3 474.6,462.2 C467.2,459.1 436.8,453.1 428.5,451.5 C420.2,449.9 381.1,443.9 375.4,442.7 C369.7,441.5 363.7,438.1 360.0,436.7 C356.3,435.3 334.5,430.2 330.5,425.6 C326.5,421.0 320.9,386.1 312.0,381.5 C303.1,376.9 231.3,371.4 224.0,370.5 L224,372 L160,359 L140,359 L150,350 Z" fill="none" stroke="#aeb290" stroke-width="16" opacity="0.75" filter="url(#b8)"/>
<path d="M380,380 Q470.0,390.0 560,420" fill="none" stroke="#e6ead2" stroke-width="10" opacity="0.6" stroke-linecap="round" filter="url(#b4)"/>
<path d="M450,400 Q575.0,425.0 700,470" fill="none" stroke="#e4e8d0" stroke-width="12" opacity="0.5" stroke-linecap="round" filter="url(#b4)"/>
<path d="M600,380 Q700.0,380.0 800,400" fill="none" stroke="#e6ead6" stroke-width="14" opacity="0.5" stroke-linecap="round" filter="url(#b4)"/>
<path d="M560,440 Q660.0,455.0 760,490" fill="none" stroke="#cdd2ae" stroke-width="8" opacity="0.45" stroke-linecap="round" filter="url(#b4)"/>
<path d="M700,420 Q765.0,420.0 830,440" fill="none" stroke="#e6ead6" stroke-width="10" opacity="0.5" stroke-linecap="round" filter="url(#b4)"/>
<path d="M340,400 Q430.0,425.0 520,470" fill="none" stroke="#c8ceaa" stroke-width="6" opacity="0.4" stroke-linecap="round" filter="url(#b4)"/>
<path d="M640,500 Q715.0,492.5 790,505" fill="none" stroke="#ccd0ac" stroke-width="8" opacity="0.4" stroke-linecap="round" filter="url(#b4)"/>
<ellipse cx="1130" cy="410" rx="55" ry="45" fill="#e0e8d8" opacity="0.7" filter="url(#b8)"/>
<path d="M1000,380 Q1060,420 1050,480 L1000,500 Q980,440 990,400 Z" fill="#c6cca8" opacity="0.5" filter="url(#b8)"/>
<path d="M815,358 L1000,358 L1030,500 L790,520 Z" fill="#e0e4c8" opacity="0.5" filter="url(#b4)"/>
<path d="M842,358 L960,358 Q990,420 1003,500 L810,510 Q820,420 842,358 Z" fill="#fff" filter="url(#ridgeTex)"/>
<path d="M834.7,359.8 C834.1,363.1 833.6,370.8 831.0,379.4 C828.4,388.0 822.5,399.0 818.8,411.3 C815.1,423.6 811.5,438.7 809.0,453.0 C806.5,467.3 805.2,487.6 804.0,497.0 C802.8,506.4 802.0,507.3 801.6,509.4" fill="none" stroke="#9a9e7c" stroke-width="10" opacity="0.65" filter="url(#b2)"/>
<path d="M861.7,359.8 C861.1,364.3 859.5,376.2 858.0,386.8 C856.5,397.4 854.2,411.3 853.0,423.6 C851.8,435.9 850.5,448.1 850.7,460.4 C850.9,472.7 853.6,489.4 854.4,497.2 C855.2,505.0 855.4,505.4 855.6,507.0" fill="none" stroke="#9a9e7c" stroke-width="10" opacity="0.65" filter="url(#b2)"/>
<path d="M882.6,359.8 C882.2,364.3 880.4,376.2 880.0,386.8 C879.6,397.4 880.0,411.7 880.0,423.6 C880.0,435.5 879.8,446.9 880.0,458.0 C880.2,469.1 880.3,483.0 881.0,490.0 C881.7,497.0 883.5,498.3 884.0,500.0" fill="none" stroke="#9a9e7c" stroke-width="10" opacity="0.65" filter="url(#b2)"/>
<path d="M902.2,359.8 C903.0,364.3 905.4,376.2 907.0,386.8 C908.6,397.4 910.5,411.3 912.0,423.6 C913.5,435.9 914.5,448.9 915.7,460.4 C916.9,471.8 918.8,487.0 919.4,492.3" fill="none" stroke="#9a9e7c" stroke-width="10" opacity="0.65" filter="url(#b2)"/>
<path d="M921.8,359.8 C923.0,366.3 926.3,386.3 929.2,399.0 C932.1,411.7 936.5,423.5 939.0,435.8 C941.5,448.1 942.3,462.4 943.9,472.6 C945.5,482.8 948.0,493.1 948.8,497.2" fill="none" stroke="#9a9e7c" stroke-width="10" opacity="0.65" filter="url(#b2)"/>
<path d="M951.2,359.8 C952.4,364.3 954.9,377.0 958.6,386.8 C962.3,396.6 969.2,407.7 973.3,418.7 C977.4,429.7 980.2,441.6 983.1,453.0 C986.0,464.4 988.5,480.0 990.5,487.4 C992.5,494.8 994.6,495.6 995.4,497.2" fill="none" stroke="#9a9e7c" stroke-width="10" opacity="0.65" filter="url(#b2)"/>
<path d="M841.2,359.8 C841.1,363.1 843.1,370.8 840.5,379.4 C837.9,388.0 829.0,399.0 825.3,411.3 C821.6,423.6 821.0,438.7 818.5,453.0 C816.0,467.3 811.7,487.6 810.5,497.0 C809.3,506.4 811.0,507.3 811.1,509.4" fill="none" stroke="#f4f6e4" stroke-width="2.6" opacity="0.95" stroke-linecap="round"/>
<path d="M868.2,359.8 C868.1,364.3 869.0,376.2 867.5,386.8 C866.0,397.4 860.7,411.3 859.5,423.6 C858.3,435.9 860.0,448.1 860.2,460.4 C860.4,472.7 860.1,489.4 860.9,497.2 C861.7,505.0 864.4,505.4 865.1,507.0" fill="none" stroke="#f4f6e4" stroke-width="2.6" opacity="0.95" stroke-linecap="round"/>
<path d="M889.1,359.8 C889.2,364.3 889.9,376.2 889.5,386.8 C889.1,397.4 886.5,411.7 886.5,423.6 C886.5,435.5 889.3,446.9 889.5,458.0 C889.7,469.1 886.8,483.0 887.5,490.0 C888.2,497.0 892.5,498.3 893.5,500.0" fill="none" stroke="#f4f6e4" stroke-width="2.6" opacity="0.95" stroke-linecap="round"/>
<path d="M908.7,359.8 C910.0,364.3 914.9,376.2 916.5,386.8 C918.1,397.4 917.0,411.3 918.5,423.6 C920.0,435.9 924.0,448.9 925.2,460.4 C926.4,471.8 925.8,487.0 925.9,492.3" fill="none" stroke="#f4f6e4" stroke-width="2.6" opacity="0.95" stroke-linecap="round"/>
<path d="M928.3,359.8 C930.0,366.3 935.8,386.3 938.7,399.0 C941.6,411.7 943.0,423.5 945.5,435.8 C948.0,448.1 951.8,462.4 953.4,472.6 C955.0,482.8 955.0,493.1 955.3,497.2" fill="none" stroke="#f4f6e4" stroke-width="2.6" opacity="0.95" stroke-linecap="round"/>
<path d="M957.7,359.8 C959.4,364.3 964.4,377.0 968.1,386.8 C971.8,396.6 975.7,407.7 979.8,418.7 C983.9,429.7 989.7,441.6 992.6,453.0 C995.5,464.4 995.0,480.0 997.0,487.4 C999.0,494.8 1003.6,495.6 1004.9,497.2" fill="none" stroke="#f4f6e4" stroke-width="2.6" opacity="0.95" stroke-linecap="round"/>
<path d="M974.7,391.5 C978.9,390.6 990.6,387.2 1000.0,386.0 C1009.4,384.8 1025.8,384.3 1031.0,384.0" fill="none" stroke="#8e9478" stroke-width="2" opacity="0.6" stroke-linecap="round" filter="url(#b2)"/>
<path d="M1102.0,389.0 C1104.7,388.7 1113.1,387.4 1118.0,387.0 C1122.9,386.6 1129.3,386.7 1131.6,386.6" fill="none" stroke="#8e9478" stroke-width="2" opacity="0.6" stroke-linecap="round" filter="url(#b2)"/>
<path d="M962.0,378.0 C964.2,383.3 971.2,402.8 975.0,410.0 C978.8,417.2 982.0,414.3 984.5,421.0 C987.0,427.7 988.0,440.7 990.0,450.0 C992.0,459.3 994.8,469.2 996.8,477.0 C998.8,484.8 1000.9,493.7 1001.7,497.0" fill="none" stroke="#9ea488" stroke-width="5" opacity="0.45" stroke-linecap="round" filter="url(#b2)"/>
<path d="M1050.0,362.0 C1053.0,366.7 1063.0,378.7 1068.0,390.0 C1073.0,401.3 1075.5,418.3 1080.0,430.0 C1084.5,441.7 1092.5,455.0 1095.0,460.0" fill="none" stroke="#9ea488" stroke-width="6" opacity="0.5" stroke-linecap="round" filter="url(#b2)"/>
<path d="M1150.0,372.0 C1155.0,377.7 1172.5,394.7 1180.0,406.0 C1187.5,417.3 1192.5,434.3 1195.0,440.0" fill="none" stroke="#a6ac8e" stroke-width="8" opacity="0.35" stroke-linecap="round" filter="url(#b2)"/>
<path d="M1010.0,490.0 C1015.0,489.2 1029.2,487.0 1040.0,485.0 C1050.8,483.0 1069.2,479.2 1075.0,478.0" fill="none" stroke="#a6ac8e" stroke-width="4" opacity="0.45" stroke-linecap="round" filter="url(#b2)"/>
<path d="M780.0,525.7 C781.5,525.5 795.5,523.8 798.0,523.0 C800.5,522.2 808.6,516.0 810.5,515.9 C812.4,515.8 818.8,521.5 821.2,522.1 C823.6,522.7 835.9,524.3 839.2,523.0 C842.5,521.7 857.9,507.5 860.7,506.9 C863.5,506.3 871.6,514.6 873.2,515.9 C874.8,517.2 879.2,523.1 880.4,522.1 C881.6,521.1 886.6,505.5 887.6,503.3 C888.6,501.1 891.8,496.2 893.0,496.1 C894.2,496.0 900.4,500.1 902.0,501.5 C903.6,502.9 911.6,510.4 912.7,512.3 C913.8,514.2 914.3,523.0 915.0,524.0 C915.7,525.0 920.6,525.9 921.5,524.0 C922.4,522.1 924.6,503.9 925.2,501.5 C925.8,499.1 927.9,495.1 928.8,495.2 C929.7,495.3 934.8,501.9 936.0,503.3 C937.2,504.7 941.7,511.5 943.2,511.4 C944.7,511.3 952.5,502.9 954.0,502.4 C955.5,501.9 959.2,504.5 961.1,505.1 C963.0,505.7 974.2,509.8 977.2,509.6 C980.2,509.5 994.5,503.4 997.0,503.3 C999.5,503.2 1005.2,508.1 1007.7,508.7 C1010.2,509.3 1025.2,510.5 1026.8,510.7" fill="none" stroke="#7a5a30" stroke-width="2.2" opacity="0.75"/>
</g>
<path d="M224.0,370.5 C231.3,371.4 303.1,376.9 312.0,381.5 C320.9,386.1 326.5,421.0 330.5,425.6 C334.5,430.2 356.3,435.3 360.0,436.7 C363.7,438.1 369.7,441.5 375.4,442.7 C381.1,443.9 420.2,449.9 428.5,451.5 C436.8,453.1 467.2,459.1 474.6,462.2 C482.0,465.3 510.5,484.4 517.0,488.7 C523.5,493.0 546.0,510.7 552.5,513.5 C559.0,516.3 586.1,522.0 595.0,522.4 C603.9,522.8 648.3,518.7 658.7,518.8 C669.1,518.9 709.1,523.8 720.0,524.0 C730.9,524.2 784.2,521.9 790.0,521.7" fill="none" stroke="#7a5a30" stroke-width="1.8" opacity="0.75"/>
<path d="M1026.8,510.7 C1029.9,510.5 1058.0,509.0 1063.5,508.3 C1069.0,507.6 1089.1,502.9 1093.0,502.1 C1096.9,501.3 1105.5,499.1 1110.0,498.4 C1114.5,497.7 1141.1,494.5 1147.0,493.5 C1152.9,492.5 1177.3,488.2 1181.2,486.2 C1185.1,484.2 1191.5,474.5 1193.5,469.0 C1195.5,463.5 1203.8,429.2 1205.7,420.0 C1207.6,410.8 1215.6,363.2 1216.5,358.0" fill="none" stroke="#7a5a30" stroke-width="1.8" opacity="0.75"/>
<path d="M895.5,358 L905.3,358 Q912,440 920,521.7 L918,545 L914,545 Q908,450 895.5,358 Z" fill="#aa9a90"/>
<path d="M899,360 Q906,440 915,520" fill="none" stroke="#8c7c74" stroke-width="2" opacity="0.6"/>
<clipPath id="cTop592"><rect x="0" y="0" width="1450" height="592"/></clipPath>
<g clip-path="url(#cTop592)">
<path d="M1044.0,330.0 C1046.4,327.0 1071.8,327.0 1075.0,330.0 C1078.2,333.0 1074.3,354.7 1076.0,359.6 C1077.7,364.5 1088.9,374.9 1092.0,379.0 C1095.1,383.1 1105.0,394.6 1107.0,401.0 C1109.0,407.4 1109.5,436.4 1112.0,443.0 C1114.5,449.6 1128.2,463.1 1131.6,467.5 C1135.0,471.9 1144.2,479.5 1146.0,487.0 C1147.8,494.5 1148.8,534.3 1149.4,542.6 C1150.0,550.9 1151.3,565.1 1152.0,570.0 C1152.7,574.9 1158.2,589.8 1156.7,592.0 C1155.2,594.2 1139.4,594.2 1137.0,592.0 C1134.6,589.8 1134.0,575.4 1133.0,570.0 C1132.0,564.6 1128.7,542.7 1127.3,537.7 C1125.9,532.7 1121.0,523.8 1119.0,520.0 C1117.0,516.2 1110.2,505.6 1107.0,499.4 C1103.8,493.2 1090.7,465.1 1087.5,457.7 C1084.3,450.3 1077.8,432.6 1075.0,425.8 C1072.2,419.0 1062.4,396.6 1060.0,390.0 C1057.6,383.4 1052.3,365.6 1050.7,359.6 C1049.1,353.6 1041.6,333.0 1044.0,330.0 Z" fill="#b8b2a4"/>
</g>
<clipPath id="cSlab"><path d="M1044.0,330.0 C1046.4,327.0 1071.8,327.0 1075.0,330.0 C1078.2,333.0 1074.3,354.7 1076.0,359.6 C1077.7,364.5 1088.9,374.9 1092.0,379.0 C1095.1,383.1 1105.0,394.6 1107.0,401.0 C1109.0,407.4 1109.5,436.4 1112.0,443.0 C1114.5,449.6 1128.2,463.1 1131.6,467.5 C1135.0,471.9 1144.2,479.5 1146.0,487.0 C1147.8,494.5 1148.8,534.3 1149.4,542.6 C1150.0,550.9 1151.3,565.1 1152.0,570.0 C1152.7,574.9 1158.2,589.8 1156.7,592.0 C1155.2,594.2 1139.4,594.2 1137.0,592.0 C1134.6,589.8 1134.0,575.4 1133.0,570.0 C1132.0,564.6 1128.7,542.7 1127.3,537.7 C1125.9,532.7 1121.0,523.8 1119.0,520.0 C1117.0,516.2 1110.2,505.6 1107.0,499.4 C1103.8,493.2 1090.7,465.1 1087.5,457.7 C1084.3,450.3 1077.8,432.6 1075.0,425.8 C1072.2,419.0 1062.4,396.6 1060.0,390.0 C1057.6,383.4 1052.3,365.6 1050.7,359.6 C1049.1,353.6 1041.6,333.0 1044.0,330.0 Z"/></clipPath>
<g clip-path="url(#cTop592)"><g clip-path="url(#cSlab)">
<path d="M1050,330 C1060,380 1078.0,430 1098.0,470 S1134.0,530 1141.0,592" fill="none" stroke="#8e887a" stroke-width="2" opacity="0.6" filter="url(#b1)"/>
<path d="M1056,330 C1066,380 1085.2,430 1105.2,470 S1137.6,530 1144.0,592" fill="none" stroke="#d4d0c4" stroke-width="3" opacity="0.7" filter="url(#b1)"/>
<path d="M1063,330 C1073,380 1093.6,430 1113.6,470 S1141.8,530 1147.5,592" fill="none" stroke="#9a9486" stroke-width="1.5" opacity="0.6" filter="url(#b1)"/>
<path d="M1068,330 C1078,380 1099.6,430 1119.6,470 S1144.8,530 1150.0,592" fill="none" stroke="#d0ccbf" stroke-width="2.5" opacity="0.6" filter="url(#b1)"/>
<path d="M1073,330 C1083,380 1105.6,430 1125.6,470 S1147.8,530 1152.5,592" fill="none" stroke="#8e887a" stroke-width="2" opacity="0.5" filter="url(#b1)"/>
<path d="M1044.0,330.0 C1046.4,327.0 1071.8,327.0 1075.0,330.0 C1078.2,333.0 1074.3,354.7 1076.0,359.6 C1077.7,364.5 1088.9,374.9 1092.0,379.0 C1095.1,383.1 1105.0,394.6 1107.0,401.0 C1109.0,407.4 1109.5,436.4 1112.0,443.0 C1114.5,449.6 1128.2,463.1 1131.6,467.5 C1135.0,471.9 1144.2,479.5 1146.0,487.0 C1147.8,494.5 1148.8,534.3 1149.4,542.6 C1150.0,550.9 1151.3,565.1 1152.0,570.0 C1152.7,574.9 1158.2,589.8 1156.7,592.0 C1155.2,594.2 1139.4,594.2 1137.0,592.0 C1134.6,589.8 1134.0,575.4 1133.0,570.0 C1132.0,564.6 1128.7,542.7 1127.3,537.7 C1125.9,532.7 1121.0,523.8 1119.0,520.0 C1117.0,516.2 1110.2,505.6 1107.0,499.4 C1103.8,493.2 1090.7,465.1 1087.5,457.7 C1084.3,450.3 1077.8,432.6 1075.0,425.8 C1072.2,419.0 1062.4,396.6 1060.0,390.0 C1057.6,383.4 1052.3,365.6 1050.7,359.6 C1049.1,353.6 1041.6,333.0 1044.0,330.0 Z" fill="none" stroke="#7e786c" stroke-width="3" opacity="0.6" filter="url(#b1)"/>
</g></g>
<path d="M150.0,358.0 L160.0,357.0 L196.0,344.0 L235.0,320.0 L268.0,296.0 L310.7,277.3 L347.5,257.7 L384.0,238.0 L445.0,212.0 L490.0,189.5 L516.8,178.0 L540.0,181.0 L596.2,187.7 L601.5,192.0 L606.8,210.8 L612.1,228.5 L626.3,237.3 L651.0,240.9 L665.3,214.3 L676.0,193.0 L684.8,182.4 L695.3,168.6 L704.9,172.5 L716.3,182.0 L725.5,194.7 L731.6,209.7 L745.0,230.6 L752.5,246.0 L757.5,254.0 L773.5,226.8 L788.8,204.0 L796.4,196.3 L800.2,187.7 L812.6,187.7 L819.3,201.0 L828.5,212.0 L838.4,230.6 L845.7,243.8 L853.0,252.0 L865.0,254.5 L880.0,254.5 L921.6,252.9 L921.6,255.8 L1005.5,255.8 L1020.0,291.3 L1034.0,307.3 L1041.0,325.0 L1042.0,358.5 Z" fill="#bdafa4"/>
<g clip-path="url(#cShelf)">
<path d="M160,357 L196,344 L268,296 L384,238 L490,189.5 L516.8,178 L596,188 L600,200 L545,222 L525,252 L480,282 L430,305 L370,327 L305,322 L250,340 L200,358 Z" fill="#8e8482" opacity="0.28" filter="url(#b8)"/>
<path d="M334.0,358.5 C335.8,356.8 341.3,351.1 345.0,348.0 C348.7,344.9 351.6,343.3 356.0,340.0 C360.4,336.7 364.4,332.0 371.7,328.3 C379.0,324.6 389.7,321.9 400.0,318.0 C410.3,314.1 423.5,308.8 433.5,305.0 C443.5,301.2 451.6,298.8 460.0,295.0 C468.4,291.2 474.6,287.4 483.7,282.0 C492.8,276.6 507.6,267.5 514.6,262.7 C521.6,257.9 520.9,256.2 526.0,253.0 C531.1,249.8 542.6,247.6 545.5,243.4 C548.4,239.2 543.8,230.6 543.5,228.0 L600,240 L640,300 L640,358.5 L334,358.5 Z" fill="#c8bcb2" opacity="0.85" filter="url(#b1)"/>
<path d="M334.0,358.5 C335.8,356.8 341.3,351.1 345.0,348.0 C348.7,344.9 351.6,343.3 356.0,340.0 C360.4,336.7 364.4,332.0 371.7,328.3 C379.0,324.6 389.7,321.9 400.0,318.0 C410.3,314.1 423.5,308.8 433.5,305.0 C443.5,301.2 451.6,298.8 460.0,295.0 C468.4,291.2 474.6,287.4 483.7,282.0 C492.8,276.6 507.6,267.5 514.6,262.7 C521.6,257.9 520.9,256.2 526.0,253.0 C531.1,249.8 542.6,247.6 545.5,243.4 C548.4,239.2 543.8,230.6 543.5,228.0" fill="none" stroke="#7e726c" stroke-width="2" opacity="0.55" filter="url(#b1)"/>
<path d="M334.0,354.5 C335.8,352.8 341.3,347.1 345.0,344.0 C348.7,340.9 351.6,339.3 356.0,336.0 C360.4,332.7 364.4,328.0 371.7,324.3 C379.0,320.6 389.7,317.9 400.0,314.0 C410.3,310.1 423.5,304.8 433.5,301.0 C443.5,297.2 451.6,294.8 460.0,291.0 C468.4,287.2 474.6,283.4 483.7,278.0 C492.8,272.6 507.6,263.5 514.6,258.7 C521.6,253.9 520.9,252.2 526.0,249.0 C531.1,245.8 542.6,243.6 545.5,239.4 C548.4,235.2 543.8,226.6 543.5,224.0" fill="none" stroke="#8a7e78" stroke-width="6" opacity="0.35" filter="url(#b2)"/>
<path d="M150,358 L200,340 L300,290 L400,240 L500,195 L540,190 L560,215 L520,260 L420,310 L330,350 Z" fill="#9c928e" opacity="0.35" filter="url(#b8)"/>
<path d="M680,290 L720,240 L760,300 L740,350 L680,350 Z" fill="#c4bab2" opacity="0.5" filter="url(#b8)"/>
</g>
<path d="M516.8,178.0 L540.0,181.0 L596.2,187.7 L601.5,192.0 L606.8,210.8 L612.1,228.5 L626.3,237.3 L651.0,240.9" fill="none" stroke="#86786f" stroke-width="2" opacity="0.8" stroke-linecap="round" stroke-linejoin="round" filter="url(#b1)"/>
<path d="M543.0,228.5 C543.9,226.7 542.1,220.5 548.3,217.8 C554.5,215.1 571.9,216.6 580.2,212.5 C588.5,208.4 595.0,196.2 598.0,193.0" fill="none" stroke="#86786f" stroke-width="2.2" opacity="0.6" stroke-linecap="round" stroke-linejoin="round" filter="url(#b1)"/>
<path d="M546.6,244.0 C547.5,247.0 549.8,257.3 552.0,262.0 C554.2,266.7 550.6,272.6 560.0,272.0 C569.4,271.4 594.6,261.7 608.6,258.6 C622.6,255.5 638.1,254.2 644.0,253.3" fill="none" stroke="#86786f" stroke-width="2.5" opacity="0.45" stroke-linecap="round" stroke-linejoin="round" filter="url(#b2)"/>
<path d="M546.0,228.0 C546.3,230.8 547.7,242.2 548.0,245.0" fill="none" stroke="#86786f" stroke-width="3" opacity="0.5" stroke-linecap="round" stroke-linejoin="round" filter="url(#b1)"/>
<path d="M373.0,327.4 C385.5,323.2 429.0,309.7 448.0,302.0 C467.0,294.3 475.8,287.0 486.8,281.0 C497.8,275.0 504.3,272.5 513.8,266.0 C523.3,259.5 537.8,249.5 543.8,242.0 C549.8,234.5 548.8,224.5 549.8,221.0" fill="none" stroke="#86786f" stroke-width="3" opacity="0.5" stroke-linecap="round" stroke-linejoin="round" filter="url(#b2)"/>
<path d="M380.0,335.0 C392.5,330.8 435.8,317.5 455.0,310.0 C474.2,302.5 484.2,296.0 495.0,290.0 C505.8,284.0 510.8,280.7 520.0,274.0 C529.2,267.3 545.0,254.0 550.0,250.0" fill="none" stroke="#d0c4ba" stroke-width="4" opacity="0.5" stroke-linecap="round" stroke-linejoin="round" filter="url(#b2)"/>
<g clip-path="url(#cShelf)">
<path d="M712.0,180.0 L731.0,210.0 L752.0,253.0 L760.0,275.0 L745.0,282.0 L728.0,232.0 L706.0,190.0 Z" fill="#857a72" opacity="0.75" filter="url(#b2)"/>
<path d="M665.0,214.0 L644.0,261.0 L632.0,317.0 L652.0,300.0 L676.0,273.0 L690.0,240.0 L700.0,212.0 Z" fill="#857a72" opacity="0.5" filter="url(#b4)"/>
<path d="M819.0,201.0 L838.0,230.0 L865.0,256.0 L855.0,275.0 L833.0,255.0 L818.0,218.0 Z" fill="#857a72" opacity="0.6" filter="url(#b2)"/>
<path d="M788.0,204.0 L773.0,227.0 L757.0,254.0 L770.0,262.0 L785.0,235.0 L795.0,210.0 Z" fill="#857a72" opacity="0.35" filter="url(#b4)"/>
<path d="M598.0,193.0 L580.0,212.0 L548.0,218.0 L543.0,228.0 L546.0,244.0 L575.0,240.0 L605.0,225.0 Z" fill="#857a72" opacity="0.35" filter="url(#b4)"/>
<path d="M552.0,262.0 L608.0,258.0 L644.0,253.0 L651.0,241.0 L640.0,270.0 L600.0,285.0 L560.0,285.0 Z" fill="#857a72" opacity="0.45" filter="url(#b4)"/>
<path d="M448.0,302.0 L513.0,266.0 L543.0,242.0 L560.0,300.0 L500.0,320.0 L430.0,330.0 Z" fill="#857a72" opacity="0.2" filter="url(#b8)"/>
<path d="M752.0,296.0 L760.0,296.0 L792.0,346.0 L775.0,352.0 L760.0,320.0 Z" fill="#857a72" opacity="0.55" filter="url(#b2)"/>
<path d="M640.0,330.0 L700.0,300.0 L720.0,340.0 L700.0,358.0 L640.0,358.0 Z" fill="#857a72" opacity="0.3" filter="url(#b8)"/>
<path d="M695.0,170.0 L684.0,183.0 L670.0,210.0 L660.0,240.0 L680.0,235.0 L698.0,200.0 Z" fill="#d2c6bc" opacity="0.5" filter="url(#b2)"/>
<path d="M800.0,190.0 L790.0,205.0 L775.0,235.0 L790.0,240.0 L802.0,210.0 Z" fill="#d2c6bc" opacity="0.45" filter="url(#b2)"/>
</g>
<path d="M651.0,240.9 L665.3,214.3 L676.0,193.0 L684.8,182.4 L695.3,168.6 L704.9,172.5 L716.3,182.0 L725.5,194.7 L731.6,209.7 L745.0,230.6 L752.5,246.0 L757.5,254.0 L773.5,226.8 L788.8,204.0 L796.4,196.3 L800.2,187.7" fill="none" stroke="#86786f" stroke-width="1.8" opacity="0.7" stroke-linecap="round" stroke-linejoin="round" filter="url(#b1)"/>
<path d="M812.6,187.7 L819.3,201.0 L828.5,212.0 L838.4,230.6 L845.7,243.8 L853.0,252.0 L865.0,254.5 L880.0,254.5" fill="none" stroke="#86786f" stroke-width="1.8" opacity="0.7" stroke-linecap="round" stroke-linejoin="round" filter="url(#b1)"/>
<path d="M695.3,170.0 C693.4,172.0 687.2,178.2 684.0,182.0 C680.8,185.8 679.2,187.7 676.0,193.0 C672.8,198.3 670.2,202.7 665.0,214.0 C659.8,225.3 650.0,243.8 644.5,261.0 C639.0,278.2 634.1,308.0 632.0,317.4" fill="none" stroke="#86786f" stroke-width="2.5" opacity="0.75" stroke-linecap="round" stroke-linejoin="round" filter="url(#b1)"/>
<path d="M704.0,174.0 C706.0,175.5 712.4,179.6 716.0,183.0 C719.6,186.4 721.5,187.7 725.5,194.7 C729.5,201.7 735.5,215.2 740.0,225.0 C744.5,234.8 749.6,245.6 752.5,253.6 C755.4,261.6 756.6,269.8 757.4,273.0" fill="none" stroke="#86786f" stroke-width="3" opacity="0.75" stroke-linecap="round" stroke-linejoin="round" filter="url(#b1)"/>
<path d="M703.0,192.0 C702.5,195.8 702.2,207.0 700.0,215.0 C697.8,223.0 693.7,233.7 690.0,240.0 C686.3,246.3 680.0,250.8 678.0,253.0" fill="none" stroke="#86786f" stroke-width="3" opacity="0.45" stroke-linecap="round" stroke-linejoin="round" filter="url(#b2)"/>
<path d="M634.7,322.3 Q660,290 676.4,273.2 Q690,245 701,231.5 L718,231.5 Q728,240 735.3,253.6 L750,290.4 L740,340 L640,340 Z" fill="#c6bab0" opacity="0.85" filter="url(#b1)"/>
<path d="M634.7,322.3 C638.9,316.9 653.0,298.2 660.0,290.0 C667.0,281.8 671.4,280.7 676.4,273.2 C681.4,265.7 685.9,251.9 690.0,245.0 C694.1,238.1 696.3,233.8 701.0,231.5 C705.7,229.2 712.3,227.8 718.0,231.5 C723.7,235.2 730.0,243.8 735.3,253.6 C740.6,263.4 747.5,284.3 750.0,290.4" fill="none" stroke="#86786f" stroke-width="2.4" opacity="0.75" stroke-linecap="round" stroke-linejoin="round" filter="url(#b1)"/>
<path d="M708.0,235.0 C708.0,242.5 707.3,265.8 708.0,280.0 C708.7,294.2 711.3,313.3 712.0,320.0" fill="none" stroke="#86786f" stroke-width="4" opacity="0.35" stroke-linecap="round" stroke-linejoin="round" filter="url(#b2)"/>
<path d="M725.0,240.0 C727.5,245.8 736.7,265.0 740.0,275.0 C743.3,285.0 744.2,295.8 745.0,300.0" fill="none" stroke="#86786f" stroke-width="6" opacity="0.35" stroke-linecap="round" stroke-linejoin="round" filter="url(#b2)"/>
<path d="M757.5,254.0 C760.2,249.5 768.3,235.1 773.5,226.8 C778.7,218.5 785.0,209.1 788.8,204.0 C792.6,198.9 795.1,197.6 796.4,196.3" fill="none" stroke="#86786f" stroke-width="2.4" opacity="0.65" stroke-linecap="round" stroke-linejoin="round" filter="url(#b1)"/>
<path d="M819.3,201.0 C820.8,202.8 825.3,207.1 828.5,212.0 C831.7,216.9 835.5,225.3 838.4,230.6 C841.3,235.9 841.2,239.6 845.7,243.8 C850.2,248.0 862.0,254.0 865.3,256.0" fill="none" stroke="#86786f" stroke-width="2.4" opacity="0.65" stroke-linecap="round" stroke-linejoin="round" filter="url(#b1)"/>
<path d="M801.5,215.0 C801.5,219.3 801.5,231.3 801.5,241.0 C801.5,250.7 801.5,267.7 801.5,273.0" fill="none" stroke="#86786f" stroke-width="5" opacity="0.4" stroke-linecap="round" stroke-linejoin="round" filter="url(#b2)"/>
<path d="M825.0,220.0 C826.0,224.8 829.6,239.4 831.0,248.7 C832.4,258.0 833.0,271.2 833.4,275.7" fill="none" stroke="#86786f" stroke-width="5" opacity="0.4" stroke-linecap="round" stroke-linejoin="round" filter="url(#b2)"/>
<path d="M760.0,260.0 C757.5,265.0 749.2,280.0 745.0,290.0 C740.8,300.0 736.7,315.0 735.0,320.0" fill="none" stroke="#86786f" stroke-width="6" opacity="0.3" stroke-linecap="round" stroke-linejoin="round" filter="url(#b4)"/>
<path d="M710.8,340 Q728,310 740.2,295.3 L757.4,295.3 Q775,320 791.7,346.8 Z" fill="#c4b8ae" opacity="0.9" filter="url(#b1)"/>
<path d="M710.8,337.0 C713.7,332.5 723.1,316.9 728.0,310.0 C732.9,303.1 735.3,297.8 740.2,295.3 C745.1,292.9 751.6,291.2 757.4,295.3 C763.2,299.4 769.3,311.4 775.0,320.0 C780.7,328.6 788.9,342.3 791.7,346.8" fill="none" stroke="#86786f" stroke-width="2.4" opacity="0.75" stroke-linecap="round" stroke-linejoin="round" filter="url(#b1)"/>
<path d="M752.0,300.0 C752.0,308.3 752.0,341.7 752.0,350.0" fill="none" stroke="#86786f" stroke-width="4" opacity="0.3" stroke-linecap="round" stroke-linejoin="round" filter="url(#b2)"/>
<path d="M921.6,255.8 L1005.5,255.8 L1020.0,291.3 L1034.0,307.3 L1041.0,325.0 L1042.0,358.5" fill="none" stroke="#86786f" stroke-width="2" opacity="0.7" stroke-linecap="round" stroke-linejoin="round" filter="url(#b1)"/>
<path d="M868.0,254.5 L921.6,252.9" fill="none" stroke="#86786f" stroke-width="2" opacity="0.5" stroke-linecap="round" stroke-linejoin="round" filter="url(#b1)"/>
<path d="M985.0,286.0 C990.5,285.5 1012.5,283.5 1018.0,283.0" fill="none" stroke="#8a7068" stroke-width="2" opacity="0.7" stroke-linecap="round" stroke-linejoin="round" filter="url(#b1)"/>
<path d="M850,300 L1000,300 L1030,358 L850,358 Z" fill="#c2b8b0" opacity="0.35" filter="url(#b8)"/>
<path d="M1040.4,250.6 L1073.0,254.2 L1109.9,253.7 L1125.4,236.9 L1148.7,200.7 L1161.6,195.5 L1191.6,176.0 L1210.0,203.0 L1230.0,231.0 L1245.0,256.0 L1260.0,285.0 L1245.3,307.2 L1218.3,324.4 L1216.0,358.5 L1043.0,358.5 Z" fill="#c2b6ac"/>
<clipPath id="cWall"><path d="M1040.4,250.6 L1073.0,254.2 L1109.9,253.7 L1125.4,236.9 L1148.7,200.7 L1161.6,195.5 L1191.6,176.0 L1210.0,203.0 L1230.0,231.0 L1245.0,256.0 L1260.0,285.0 L1245.3,307.2 L1218.3,324.4 L1216.0,358.5 L1043.0,358.5 Z"/></clipPath>
<g clip-path="url(#cWall)">
<path d="M1110,254 L1125,237 L1149,201 L1156,211 L1154,229 L1164,240 L1175,255 L1195,271 L1186,311 L1179,329 L1150,350 L1120,358 L1090,358 Z" fill="#9c9088" opacity="0.45" filter="url(#b4)"/>
<path d="M1149,201 L1162,196 L1191,176 L1210,203 L1230,231 L1232,262 L1200,270 L1175,255 L1164,240 L1154,229 L1156,211 Z" fill="#d0c6c0" opacity="0.55" filter="url(#b2)"/>
<path d="M1200,268 L1232,262 L1245,256 L1260,285 L1245.3,307.2 L1218.3,324.4 L1200,300 Z" fill="#bdb6c0" opacity="0.8" filter="url(#b1)"/>
<path d="M1191.6,176 L1210,203 L1230,231 L1245,256 L1238,260 L1215,232 L1195,205 Z" fill="#b4acb4" opacity="0.6" filter="url(#b1)"/>
</g>
<path d="M1040.4,250.6 L1073.0,254.2 L1109.9,253.7 L1125.4,236.9 L1148.7,200.7 L1161.6,195.5 L1191.6,176.0" fill="none" stroke="#86786f" stroke-width="2" opacity="0.75" stroke-linecap="round" stroke-linejoin="round" filter="url(#b1)"/>
<path d="M1148.7,200.7 L1156.4,211.0 L1153.8,229.2 L1164.2,239.5 L1174.5,255.0 L1195.2,270.6" fill="none" stroke="#86786f" stroke-width="2.2" opacity="0.6" stroke-linecap="round" stroke-linejoin="round" filter="url(#b1)"/>
<path d="M1125.4,237.0 C1124.5,240.8 1122.6,251.2 1120.0,260.0 C1117.4,268.8 1113.3,280.0 1110.0,290.0 C1106.7,300.0 1101.7,315.0 1100.0,320.0" fill="none" stroke="#86786f" stroke-width="4" opacity="0.3" stroke-linecap="round" stroke-linejoin="round" filter="url(#b2)"/>
<path d="M1218.0,324.0 C1215.8,320.0 1208.0,308.2 1205.0,300.0 C1202.0,291.8 1200.8,279.2 1200.0,275.0" fill="none" stroke="#86786f" stroke-width="3" opacity="0.35" stroke-linecap="round" stroke-linejoin="round" filter="url(#b2)"/>
<path d="M1047.8,275.7 C1049.8,275.1 1054.8,272.9 1060.0,272.0 C1065.2,271.1 1075.7,270.8 1078.8,270.6" fill="none" stroke="#8a7068" stroke-width="1.5" opacity="0.65" stroke-linecap="round" stroke-linejoin="round" filter="url(#b1)"/>
<path d="M1076.0,337.8 C1079.2,337.3 1088.9,335.4 1095.0,335.0 C1101.1,334.6 1109.5,335.2 1112.4,335.2" fill="none" stroke="#8a7068" stroke-width="1.5" opacity="0.65" stroke-linecap="round" stroke-linejoin="round" filter="url(#b1)"/>
<path d="M1040.4,250.6 L1046,252 L1050,270 L1055.5,283.6 L1065,310 L1078.8,348 L1082,358.5 L1043,358.5 Z" fill="#a08a92"/>
<path d="M1043.0,256.0 C1043.3,263.3 1043.8,283.0 1045.0,300.0 C1046.2,317.0 1049.2,348.3 1050.0,358.0" fill="none" stroke="#c8b4ba" stroke-width="3" opacity="0.6" stroke-linecap="round" stroke-linejoin="round" filter="url(#b1)"/>
<path d="M1049.0,268.0 C1050.2,275.0 1053.5,295.0 1056.0,310.0 C1058.5,325.0 1062.7,350.0 1064.0,358.0" fill="none" stroke="#7c6870" stroke-width="2" opacity="0.55" stroke-linecap="round" stroke-linejoin="round" filter="url(#b1)"/>
<path d="M1053.0,290.0 C1055.2,296.7 1062.8,318.7 1066.0,330.0 C1069.2,341.3 1071.0,353.3 1072.0,358.0" fill="none" stroke="#c0acb2" stroke-width="2.5" opacity="0.5" stroke-linecap="round" stroke-linejoin="round" filter="url(#b1)"/>
<path d="M860,254 L930,254 Q960,300 965,358 L835,358 Q845,300 860,254 Z" fill="#c8bcb2" opacity="0.5" filter="url(#b4)"/>
<path d="M864.4,254.0 L863.1,258.3 L859.2,262.7 L856.0,267.0 L855.8,271.3 L856.4,275.7 L854.5,280.0 L849.9,284.6 L847.1,289.2 L847.3,293.8 L847.0,298.4 L843.4,303.0 L840.9,307.2 L840.8,311.5 L842.7,315.7 L843.4,319.9 L841.4,324.2 L838.9,328.4 L838.9,332.6 L840.9,336.8 L841.5,341.1 L839.3,345.3 L836.9,349.5 L837.1,353.8 L838.0,358.0" fill="none" stroke="#857870" stroke-width="5" opacity="0.4" filter="url(#b2)"/>
<path d="M876.9,254.0 L874.9,258.3 L872.8,262.7 L873.4,267.0 L875.6,271.3 L876.0,275.7 L873.6,280.0 L871.4,284.6 L872.4,289.2 L874.0,293.8 L872.7,298.4 L869.6,303.0 L868.6,307.2 L870.1,311.5 L871.1,315.7 L869.3,319.9 L866.4,324.2 L865.6,328.4 L867.2,332.6 L868.1,336.8 L866.1,341.1 L863.3,345.3 L862.6,349.5 L864.2,353.8 L863.0,358.0" fill="none" stroke="#857870" stroke-width="5" opacity="0.4" filter="url(#b2)"/>
<path d="M884.7,254.0 L882.5,258.2 L882.5,262.4 L884.8,266.5 L886.4,270.7 L885.1,274.9 L883.0,279.1 L883.0,283.3 L885.3,287.5 L886.8,291.6 L885.6,295.8 L883.4,300.0 L883.2,304.1 L885.3,308.3 L886.8,312.4 L885.5,316.6 L883.2,320.7 L882.8,324.9 L884.8,329.0 L886.4,333.1 L885.3,337.3 L882.9,341.4 L882.4,345.6 L884.3,349.7 L886.0,353.9 L884.0,358.0" fill="none" stroke="#857870" stroke-width="5" opacity="0.4" filter="url(#b2)"/>
<path d="M896.8,254.0 L896.4,258.2 L898.6,262.4 L900.7,266.5 L900.2,270.7 L898.2,274.9 L897.7,279.1 L899.9,283.3 L902.1,287.5 L901.6,291.6 L899.5,295.8 L899.1,300.0 L901.3,304.1 L903.6,308.3 L903.3,312.4 L901.3,316.6 L900.8,320.7 L903.0,324.9 L905.3,329.0 L905.2,333.1 L903.2,337.3 L902.6,341.4 L904.6,345.6 L907.1,349.7 L907.1,353.9 L906.0,358.0" fill="none" stroke="#857870" stroke-width="5" opacity="0.4" filter="url(#b2)"/>
<path d="M903.0,254.0 L905.5,258.2 L908.5,262.4 L909.2,266.5 L907.9,270.7 L907.6,274.9 L910.0,279.1 L913.1,283.3 L913.8,287.5 L912.4,291.6 L912.1,295.8 L914.5,300.0 L917.5,304.1 L918.3,308.3 L916.9,312.4 L916.4,316.6 L918.7,320.7 L921.7,324.9 L922.7,329.0 L921.3,333.1 L920.7,337.3 L922.8,341.4 L925.9,345.6 L927.0,349.7 L925.7,353.9 L927.0,358.0" fill="none" stroke="#857870" stroke-width="5" opacity="0.4" filter="url(#b2)"/>
<path d="M914.1,254.0 L918.0,258.2 L920.1,262.4 L919.6,266.5 L919.6,270.7 L922.2,274.9 L926.2,279.1 L928.3,283.3 L927.8,287.5 L927.8,291.6 L930.4,295.8 L934.4,300.0 L936.3,304.1 L935.7,308.3 L935.3,312.4 L937.7,316.6 L941.4,320.7 L943.4,324.9 L942.9,329.0 L942.5,333.1 L944.7,337.3 L948.4,341.4 L950.6,345.6 L950.2,349.7 L949.7,353.9 L953.0,358.0" fill="none" stroke="#857870" stroke-width="5" opacity="0.4" filter="url(#b2)"/>
<path d="M869.3,254.0 L866.3,258.3 L863.4,262.7 L864.0,267.0 L861.9,271.3 L858.3,275.7 L858.5,280.0 L856.9,284.6 L852.6,289.2 L852.4,293.8 L851.0,298.4 L846.7,303.0 L847.6,307.2 L848.5,311.5 L846.0,315.7 L845.7,319.9 L847.4,324.2 L845.5,328.4 L844.0,332.6 L845.9,336.8 L845.2,341.1 L842.8,345.3 L844.1,349.5 L844.6,353.8 L843.0,358.0" fill="none" stroke="#e6e0d2" stroke-width="1.8" opacity="0.9" stroke-linejoin="round" filter="url(#b1)"/>
<path d="M880.3,254.0 L878.4,258.3 L880.4,262.7 L880.4,267.0 L878.0,271.3 L879.3,275.7 L880.3,280.0 L877.2,284.6 L877.7,289.2 L878.5,293.8 L875.5,298.4 L875.7,303.0 L876.8,307.2 L874.1,311.5 L873.2,315.7 L874.8,319.9 L873.0,324.2 L871.0,328.4 L872.5,332.6 L871.9,336.8 L869.1,341.1 L869.9,345.3 L870.5,349.5 L867.7,353.8 L868.0,358.0" fill="none" stroke="#e6e0d2" stroke-width="1.8" opacity="0.9" stroke-linejoin="round" filter="url(#b1)"/>
<path d="M887.6,254.0 L889.4,258.2 L890.4,262.4 L888.2,266.5 L888.8,270.7 L890.8,274.9 L889.3,279.1 L888.4,283.3 L890.7,287.5 L890.4,291.6 L888.5,295.8 L890.2,300.0 L891.2,304.1 L888.9,308.3 L889.1,312.4 L891.1,316.6 L889.5,320.7 L888.3,324.9 L890.4,329.0 L890.2,333.1 L888.0,337.3 L889.2,341.4 L890.6,345.6 L888.4,349.7 L888.1,353.9 L889.0,358.0" fill="none" stroke="#e6e0d2" stroke-width="1.8" opacity="0.9" stroke-linejoin="round" filter="url(#b1)"/>
<path d="M903.0,254.0 L904.6,258.2 L902.7,262.4 L903.0,266.5 L905.4,270.7 L904.4,274.9 L903.3,279.1 L905.7,283.3 L906.0,287.5 L904.1,291.6 L905.7,295.8 L907.3,300.0 L905.6,304.1 L905.8,308.3 L908.4,312.4 L907.6,316.6 L906.4,320.7 L908.8,324.9 L909.5,329.0 L907.6,333.1 L908.9,337.3 L911.0,341.4 L909.4,345.6 L909.2,349.7 L911.8,353.9 L911.0,358.0" fill="none" stroke="#e6e0d2" stroke-width="1.8" opacity="0.9" stroke-linejoin="round" filter="url(#b1)"/>
<path d="M911.4,254.0 L910.3,258.2 L910.8,262.4 L914.0,266.5 L913.9,270.7 L913.2,274.9 L916.1,279.1 L917.4,283.3 L916.0,287.5 L917.9,291.6 L920.5,295.8 L919.4,300.0 L919.8,304.1 L922.9,308.3 L922.9,312.4 L922.0,316.6 L924.7,320.7 L926.3,324.9 L924.9,329.0 L926.4,333.1 L929.1,337.3 L928.3,341.4 L928.2,345.6 L931.3,349.7 L931.8,353.9 L932.0,358.0" fill="none" stroke="#e6e0d2" stroke-width="1.8" opacity="0.9" stroke-linejoin="round" filter="url(#b1)"/>
<path d="M919.6,254.0 L920.5,258.2 L924.4,262.4 L925.4,266.5 L925.1,270.7 L928.5,274.9 L931.0,279.1 L930.4,283.3 L932.6,287.5 L936.1,291.6 L936.0,295.8 L936.8,300.0 L940.5,304.1 L941.4,308.3 L940.9,312.4 L943.9,316.6 L946.4,320.7 L945.6,324.9 L947.3,329.0 L950.8,333.1 L950.8,337.3 L951.0,341.4 L954.6,345.6 L956.0,349.7 L955.3,353.9 L958.0,358.0" fill="none" stroke="#e6e0d2" stroke-width="1.8" opacity="0.9" stroke-linejoin="round" filter="url(#b1)"/>
<path d="M862,256 Q866,249 870,256" fill="none" stroke="#e6e0d2" stroke-width="1.5" opacity="0.8"/>
<path d="M870,256 Q874,249 878,256" fill="none" stroke="#e6e0d2" stroke-width="1.5" opacity="0.8"/>
<path d="M877,256 Q881,249 885,256" fill="none" stroke="#e6e0d2" stroke-width="1.5" opacity="0.8"/>
<path d="M885,256 Q889,249 893,256" fill="none" stroke="#e6e0d2" stroke-width="1.5" opacity="0.8"/>
<path d="M899,256 Q903,249 907,256" fill="none" stroke="#e6e0d2" stroke-width="1.5" opacity="0.8"/>
<path d="M906,256 Q910,249 914,256" fill="none" stroke="#e6e0d2" stroke-width="1.5" opacity="0.8"/>
<path d="M914,256 Q918,249 922,256" fill="none" stroke="#e6e0d2" stroke-width="1.5" opacity="0.8"/>
<path d="M892.5,253 L898,253 L902,300 L906,358.5 L893,358.5 L894,300 Z" fill="#8a5a64"/>
<path d="M830,304 Q845,299 858,301 Q870,296 880,299 Q888,296 893,299 L905,299 Q915,295 925,300 Q940,298 950,302 Q958,302 967,303 Q950,306 935,306 Q920,310 905,308 L893,308 Q880,311 868,307 Q850,308 830,306 Z" fill="#8a5a64" opacity="0.9" filter="url(#b1)"/>
<path d="M866,272 Q872,269 880,271 Q886,268 893,271 L898,271 Q905,268 912,271 Q918,270 922,272 Q915,276 898,276 L893,276 Q878,277 866,273 Z" fill="#8a5a64" opacity="0.9" filter="url(#b1)"/>
<path d="M419.2,246.2 C422.7,246.9 448.8,252.3 454.5,253.9 C460.2,255.5 470.9,260.7 476.6,261.7 C482.3,262.7 507.9,262.8 511.9,263.9 C515.9,265.0 515.6,270.1 516.3,272.7 C517.0,275.3 517.8,287.2 518.5,290.3 C519.2,293.4 521.4,301.0 522.9,303.6 C524.4,306.2 530.9,314.6 534.0,316.8 C537.1,319.0 549.0,323.7 553.8,325.7 C558.6,327.7 583.1,336.6 582.0,337.0 C580.9,337.4 548.7,331.4 542.8,330.0 C536.9,328.6 526.4,325.3 522.9,323.5 C519.4,321.7 510.4,314.8 507.5,312.4 C504.6,310.0 496.2,302.1 494.2,299.2 C492.2,296.3 489.4,286.8 487.6,283.7 C485.8,280.6 479.9,270.8 476.6,268.3 C473.3,265.8 460.2,260.4 454.5,258.3 C448.8,256.2 422.7,248.5 419.2,247.3 C415.7,246.1 415.7,245.5 419.2,246.2 Z" fill="#807268" opacity="0.95" filter="url(#b1)"/>
<path d="M307.2,321.7 C310.1,322.0 330.5,324.8 335.9,325.2 C341.3,325.6 357.8,325.7 361.0,326.1 C364.2,326.6 366.6,328.1 368.0,329.7 C369.4,331.3 373.9,339.4 375.3,342.3 C376.8,345.2 380.4,355.3 382.5,358.4 C384.6,361.4 394.3,369.9 396.8,372.8 C399.3,375.7 405.1,384.8 407.6,387.1 C410.1,389.4 419.1,395.1 422.0,396.0 C424.9,396.9 432.4,395.4 436.3,396.0 C440.2,396.6 455.3,401.3 461.4,402.3 C467.5,403.3 488.8,405.3 497.2,405.9 C505.6,406.5 545.0,407.4 545.0,407.9 C545.0,408.3 505.6,410.0 497.2,410.4 C488.8,410.8 467.7,412.8 461.4,412.2 C455.1,411.6 439.2,404.8 434.5,404.1 C429.8,403.4 418.2,405.8 414.8,405.0 C411.4,404.2 402.9,398.3 400.4,396.0 C397.9,393.7 392.2,384.6 389.7,381.7 C387.2,378.8 377.6,370.6 375.3,367.4 C373.0,364.2 367.9,352.4 366.3,349.4 C364.7,346.3 362.2,338.6 359.2,336.9 C356.2,335.2 341.1,333.8 335.9,332.4 C330.7,331.0 310.1,323.7 307.2,322.6 C304.3,321.5 304.3,321.4 307.2,321.7 Z" fill="#7c706a" opacity="0.95" filter="url(#b1)"/>
<path d="M1240.0,256.0 C1238.2,256.6 1226.0,260.6 1222.0,262.0 C1218.0,263.4 1202.7,267.9 1200.0,270.0 C1197.3,272.1 1196.3,279.6 1195.0,283.5 C1193.7,287.4 1188.4,304.8 1187.0,309.4 C1185.6,314.0 1182.3,326.5 1181.0,330.0 C1179.7,333.5 1175.7,342.7 1174.0,344.0 C1172.3,345.3 1166.4,341.8 1164.0,343.0 C1161.6,344.2 1153.1,353.9 1150.0,356.0 C1146.9,358.1 1134.7,363.2 1133.0,364.0" fill="none" stroke="#776c6c" stroke-width="6" opacity="0.9" stroke-linejoin="round" filter="url(#b1)"/>
<path d="M1169.4,230.5 C1168.5,231.9 1162.1,241.8 1160.0,245.0 C1157.9,248.2 1151.3,259.1 1148.0,262.0 C1144.7,264.9 1128.8,273.2 1126.7,274.5" fill="none" stroke="#776c6c" stroke-width="5" opacity="0.85" stroke-linecap="round" filter="url(#b1)"/>
<g clip-path="url(#cUnder)">
<rect x="150" y="177" width="1120" height="182" fill="#fff" filter="url(#streakDark)"/>
<rect x="150" y="177" width="1120" height="182" fill="#fff" filter="url(#streakLight)"/>
</g>
<rect x="150" y="356.5" width="1070" height="2.5" fill="#9a90a0" opacity="0.4"/>
<g clip-path="url(#cBelow)">
<path d="M307.2,321.7 C310.1,322.0 330.5,324.8 335.9,325.2 C341.3,325.6 357.8,325.7 361.0,326.1 C364.2,326.6 366.6,328.1 368.0,329.7 C369.4,331.3 373.9,339.4 375.3,342.3 C376.8,345.2 380.4,355.3 382.5,358.4 C384.6,361.4 394.3,369.9 396.8,372.8 C399.3,375.7 405.1,384.8 407.6,387.1 C410.1,389.4 419.1,395.1 422.0,396.0 C424.9,396.9 432.4,395.4 436.3,396.0 C440.2,396.6 455.3,401.3 461.4,402.3 C467.5,403.3 488.8,405.3 497.2,405.9 C505.6,406.5 545.0,407.4 545.0,407.9 C545.0,408.3 505.6,410.0 497.2,410.4 C488.8,410.8 467.7,412.8 461.4,412.2 C455.1,411.6 439.2,404.8 434.5,404.1 C429.8,403.4 418.2,405.8 414.8,405.0 C411.4,404.2 402.9,398.3 400.4,396.0 C397.9,393.7 392.2,384.6 389.7,381.7 C387.2,378.8 377.6,370.6 375.3,367.4 C373.0,364.2 367.9,352.4 366.3,349.4 C364.7,346.3 362.2,338.6 359.2,336.9 C356.2,335.2 341.1,333.8 335.9,332.4 C330.7,331.0 310.1,323.7 307.2,322.6 C304.3,321.5 304.3,321.4 307.2,321.7 Z" fill="#8a8e7a" opacity="0.95" filter="url(#b1)"/>
<path d="M314,382 Q326,368 336,358.5" fill="none" stroke="#b4b896" stroke-width="3" opacity="0.7" filter="url(#b1)"/>
</g>
<path d="M110.4,340.8 C108.8,337.1 136.2,324.9 144.0,320.0 C151.8,315.1 178.7,297.2 188.0,292.0 C197.3,286.8 227.2,272.6 237.0,267.5 C246.8,262.4 276.2,245.4 286.0,240.5 C295.8,235.6 325.2,222.2 335.0,218.5 C344.8,214.8 376.5,206.0 384.0,203.8 C391.5,201.6 401.2,199.9 410.0,196.4 C418.8,192.9 461.1,170.4 471.8,168.5 C482.5,166.6 515.0,175.4 516.8,177.5 C518.6,179.6 497.2,186.1 490.0,189.5 C482.8,192.9 455.6,207.2 445.0,212.0 C434.4,216.8 393.8,233.4 384.0,238.0 C374.2,242.6 354.8,253.8 347.5,257.7 C340.2,261.6 318.1,273.4 310.7,277.3 C303.3,281.2 281.1,292.7 274.0,297.0 C266.9,301.3 247.4,315.3 239.6,320.0 C231.8,324.7 204.0,340.3 196.0,344.0 C188.0,347.7 168.6,357.3 160.0,357.0 C151.4,356.7 112.0,344.5 110.4,340.8 Z" fill="url(#gSand)" filter="url(#sandTex)"/>
<clipPath id="cSandL"><path d="M110.4,340.8 C108.8,337.1 136.2,324.9 144.0,320.0 C151.8,315.1 178.7,297.2 188.0,292.0 C197.3,286.8 227.2,272.6 237.0,267.5 C246.8,262.4 276.2,245.4 286.0,240.5 C295.8,235.6 325.2,222.2 335.0,218.5 C344.8,214.8 376.5,206.0 384.0,203.8 C391.5,201.6 401.2,199.9 410.0,196.4 C418.8,192.9 461.1,170.4 471.8,168.5 C482.5,166.6 515.0,175.4 516.8,177.5 C518.6,179.6 497.2,186.1 490.0,189.5 C482.8,192.9 455.6,207.2 445.0,212.0 C434.4,216.8 393.8,233.4 384.0,238.0 C374.2,242.6 354.8,253.8 347.5,257.7 C340.2,261.6 318.1,273.4 310.7,277.3 C303.3,281.2 281.1,292.7 274.0,297.0 C266.9,301.3 247.4,315.3 239.6,320.0 C231.8,324.7 204.0,340.3 196.0,344.0 C188.0,347.7 168.6,357.3 160.0,357.0 C151.4,356.7 112.0,344.5 110.4,340.8 Z"/></clipPath>
<g clip-path="url(#cSandL)">
<path d="M160.0,359.0 C166.0,356.8 182.7,352.2 196.0,346.0 C209.3,339.8 226.6,329.8 239.6,322.0 C252.6,314.2 262.1,306.1 274.0,299.0 C285.9,291.9 298.4,285.9 310.7,279.3 C322.9,272.8 335.3,266.2 347.5,259.7 C359.7,253.1 367.8,247.6 384.0,240.0 C400.2,232.4 427.3,222.1 445.0,214.0 C462.7,205.9 478.0,197.2 490.0,191.5 C502.0,185.8 512.3,181.5 516.8,179.5" fill="none" stroke="#c48a2c" stroke-width="4" opacity="0.8" filter="url(#b1)"/>
</g>
<path d="M43.6,314.8 L90.0,289.6 L114.5,255.2 L135.4,225.8 L142.7,224.6 L156.2,229.5 L162.3,228.3 L180.7,198.9 L197.9,189.0 L205.3,192.7 L222.4,205.0 L232.2,189.0 L247.0,185.4 L256.7,182.9 L278.8,175.6 L286.2,176.8 L303.3,182.9 L318.0,160.8 L332.8,158.4 L337.7,153.5 L345.0,154.7 L359.7,158.4 L369.5,151.0 L375.7,151.0 L396.5,160.8 L471.8,168.5 L468.0,172.0 L410.0,196.4 L384.0,203.8 L335.0,218.5 L286.0,240.5 L237.0,267.5 L188.0,292.0 L144.0,320.0 L110.4,340.8 L43.6,318.0 Z" fill="#5a7c22"/>
<clipPath id="cGrassL"><path d="M43.6,314.8 L90.0,289.6 L114.5,255.2 L135.4,225.8 L142.7,224.6 L156.2,229.5 L162.3,228.3 L180.7,198.9 L197.9,189.0 L205.3,192.7 L222.4,205.0 L232.2,189.0 L247.0,185.4 L256.7,182.9 L278.8,175.6 L286.2,176.8 L303.3,182.9 L318.0,160.8 L332.8,158.4 L337.7,153.5 L345.0,154.7 L359.7,158.4 L369.5,151.0 L375.7,151.0 L396.5,160.8 L471.8,168.5 L468.0,172.0 L410.0,196.4 L384.0,203.8 L335.0,218.5 L286.0,240.5 L237.0,267.5 L188.0,292.0 L144.0,320.0 L110.4,340.8 L43.6,318.0 Z"/></clipPath>
<g clip-path="url(#cGrassL)">
<g transform="rotate(-55 260 250)"><rect x="0" y="100" width="600" height="300" fill="#fff" filter="url(#grassHi)"/><rect x="0" y="100" width="600" height="300" fill="#fff" filter="url(#grassLo)"/></g>
<path d="M43.0,324.0 C54.2,327.5 93.6,345.0 110.4,345.0 C127.2,345.0 131.1,332.2 144.0,324.0 C156.9,315.8 172.5,304.8 188.0,296.0 C203.5,287.2 220.7,280.1 237.0,271.5 C253.3,262.9 269.7,252.7 286.0,244.5 C302.3,236.3 318.7,228.6 335.0,222.5 C351.3,216.4 371.5,211.5 384.0,207.8 C396.5,204.1 395.4,206.3 410.0,200.4 C424.6,194.5 461.5,177.2 471.8,172.5" fill="none" stroke="#3a6418" stroke-width="12" opacity="0.7" filter="url(#b4)"/>
</g>
<clipPath id="mc1"><path d="M303.3,182.9 L318.0,160.8 L332.8,158.4 L337.7,153.5 L345.0,154.7 L359.7,158.4 L369.5,151.0 L375.7,151.0 L396.5,160.8 L405.0,166.0 L396.5,172.0 L369.5,176.0 L335.0,190.0 L315.0,198.0 L303.0,203.0 Z"/></clipPath>
<path d="M303.3,182.9 L318.0,160.8 L332.8,158.4 L337.7,153.5 L345.0,154.7 L359.7,158.4 L369.5,151.0 L375.7,151.0 L396.5,160.8 L405.0,166.0 L396.5,172.0 L369.5,176.0 L335.0,190.0 L315.0,198.0 L303.0,203.0 Z" fill="#9a7250"/>
<g clip-path="url(#mc1)">
<path d="M318.0,162.0 L337.0,155.0 L345.0,158.0 L340.0,190.0 L315.0,198.0 Z" fill="#c49c74" opacity="0.7" filter="url(#b2)"/>
<path d="M369.0,152.0 L376.0,152.0 L372.0,176.0 L358.0,180.0 Z" fill="#c49c74" opacity="0.6" filter="url(#b2)"/>
<path d="M346.0,158.0 L360.0,160.0 L372.0,176.0 L345.0,186.0 Z" fill="#5e3e22" opacity="0.55" filter="url(#b2)"/>
<path d="M378.0,152.0 L396.0,161.0 L405.0,166.0 L385.0,172.0 Z" fill="#5e3e22" opacity="0.5" filter="url(#b2)"/>
<path d="M336.0,158.0 C335.7,160.3 335.3,167.3 334.0,172.0 C332.7,176.7 329.0,183.7 328.0,186.0" stroke="#e6cca8" stroke-width="2.5" opacity="0.7" fill="none" stroke-linecap="round" filter="url(#b1)"/>
<path d="M372.0,155.0 C371.3,157.5 368.7,167.5 368.0,170.0" stroke="#e6cca8" stroke-width="2" opacity="0.6" fill="none" stroke-linecap="round" filter="url(#b1)"/>
<path d="M336.0,158.8 l-4.4,12.5" stroke="#d8b890" stroke-width="2.7" opacity="0.45" stroke-linecap="round" filter="url(#b1)"/>
<path d="M312.6,181.3 l-5.3,15.1" stroke="#d8b890" stroke-width="1.6" opacity="0.45" stroke-linecap="round" filter="url(#b1)"/>
<path d="M347.2,154.6 l-2.4,6.9" stroke="#6a4a2c" stroke-width="1.6" opacity="0.45" stroke-linecap="round" filter="url(#b1)"/>
<path d="M360.7,200.3 l-4.3,12.3" stroke="#c8a078" stroke-width="2.9" opacity="0.45" stroke-linecap="round" filter="url(#b1)"/>
<path d="M361.9,171.6 l-5.5,15.8" stroke="#d8b890" stroke-width="2.3" opacity="0.45" stroke-linecap="round" filter="url(#b1)"/>
<path d="M316.6,172.8 l-4.0,11.4" stroke="#c8a078" stroke-width="2.0" opacity="0.45" stroke-linecap="round" filter="url(#b1)"/>
<path d="M386.2,160.4 l-4.1,11.8" stroke="#c8a078" stroke-width="1.8" opacity="0.45" stroke-linecap="round" filter="url(#b1)"/>
<path d="M312.9,188.0 l-4.1,11.6" stroke="#c8a078" stroke-width="1.8" opacity="0.45" stroke-linecap="round" filter="url(#b1)"/>
<path d="M372.4,173.2 l-3.2,9.1" stroke="#c8a078" stroke-width="2.9" opacity="0.45" stroke-linecap="round" filter="url(#b1)"/>
<path d="M339.9,163.9 l-2.7,7.8" stroke="#d8b890" stroke-width="1.6" opacity="0.45" stroke-linecap="round" filter="url(#b1)"/>
<path d="M333.6,176.7 l-3.3,9.4" stroke="#6a4a2c" stroke-width="1.9" opacity="0.45" stroke-linecap="round" filter="url(#b1)"/>
<path d="M403.0,157.1 l-3.6,10.2" stroke="#6a4a2c" stroke-width="1.7" opacity="0.45" stroke-linecap="round" filter="url(#b1)"/>
<path d="M352.9,153.0 l-4.4,12.7" stroke="#c8a078" stroke-width="2.4" opacity="0.45" stroke-linecap="round" filter="url(#b1)"/>
<path d="M392.3,167.3 l-4.5,13.0" stroke="#c8a078" stroke-width="2.2" opacity="0.45" stroke-linecap="round" filter="url(#b1)"/>
<path d="M300.0,211.0 L340.0,194.0 L405.0,174.0 L405.0,191.0 L300.0,221.0 Z" fill="#6e8e2a" opacity="0.7" filter="url(#b4)"/>
<path d="M303.3,182.9 L318.0,160.8 L332.8,158.4 L337.7,153.5 L345.0,154.7 L359.7,158.4 L369.5,151.0 L375.7,151.0 L396.5,160.8 L405.0,166.0 L396.5,172.0 L369.5,176.0 L335.0,190.0 L315.0,198.0 L303.0,203.0 Z" fill="none" stroke="#6e4a2a" stroke-width="2.5" opacity="0.7" filter="url(#b1)"/>
</g>
<clipPath id="mc2"><path d="M222.4,205.0 L232.2,189.0 L247.0,185.4 L256.7,182.9 L278.8,175.6 L286.2,176.8 L303.3,182.9 L310.0,192.0 L305.8,201.3 L290.0,212.0 L261.7,222.0 L240.0,230.0 L225.0,236.0 Z"/></clipPath>
<path d="M222.4,205.0 L232.2,189.0 L247.0,185.4 L256.7,182.9 L278.8,175.6 L286.2,176.8 L303.3,182.9 L310.0,192.0 L305.8,201.3 L290.0,212.0 L261.7,222.0 L240.0,230.0 L225.0,236.0 Z" fill="#9a7250"/>
<g clip-path="url(#mc2)">
<path d="M256.0,184.0 L279.0,176.0 L286.0,178.0 L280.0,215.0 L255.0,222.0 Z" fill="#c49c74" opacity="0.7" filter="url(#b2)"/>
<path d="M232.0,190.0 L247.0,186.0 L240.0,228.0 L228.0,232.0 Z" fill="#c49c74" opacity="0.5" filter="url(#b2)"/>
<path d="M286.0,178.0 L304.0,183.0 L310.0,192.0 L296.0,210.0 L282.0,212.0 Z" fill="#5e3e22" opacity="0.55" filter="url(#b2)"/>
<path d="M247.0,186.0 L257.0,183.0 L252.0,222.0 L240.0,226.0 Z" fill="#5e3e22" opacity="0.35" filter="url(#b2)"/>
<path d="M278.0,178.0 C277.7,180.8 277.3,189.0 276.0,195.0 C274.7,201.0 271.0,210.8 270.0,214.0" stroke="#e6cca8" stroke-width="3" opacity="0.6" fill="none" stroke-linecap="round" filter="url(#b1)"/>
<path d="M258.0,186.0 C258.7,189.2 261.3,201.8 262.0,205.0" stroke="#e6cca8" stroke-width="2.5" opacity="0.6" fill="none" stroke-linecap="round" filter="url(#b1)"/>
<path d="M231.8,218.0 l-4.4,12.5" stroke="#d8b890" stroke-width="1.9" opacity="0.45" stroke-linecap="round" filter="url(#b1)"/>
<path d="M244.8,219.9 l-4.4,12.6" stroke="#6a4a2c" stroke-width="2.2" opacity="0.45" stroke-linecap="round" filter="url(#b1)"/>
<path d="M298.9,199.4 l-5.3,15.1" stroke="#6a4a2c" stroke-width="1.8" opacity="0.45" stroke-linecap="round" filter="url(#b1)"/>
<path d="M301.4,197.2 l-3.0,8.6" stroke="#c8a078" stroke-width="2.4" opacity="0.45" stroke-linecap="round" filter="url(#b1)"/>
<path d="M235.5,208.9 l-4.4,12.6" stroke="#d8b890" stroke-width="1.5" opacity="0.45" stroke-linecap="round" filter="url(#b1)"/>
<path d="M228.5,211.5 l-2.2,6.3" stroke="#6a4a2c" stroke-width="1.8" opacity="0.45" stroke-linecap="round" filter="url(#b1)"/>
<path d="M308.1,200.0 l-5.6,15.9" stroke="#6a4a2c" stroke-width="2.8" opacity="0.45" stroke-linecap="round" filter="url(#b1)"/>
<path d="M230.7,214.3 l-5.2,14.9" stroke="#c8a078" stroke-width="2.4" opacity="0.45" stroke-linecap="round" filter="url(#b1)"/>
<path d="M277.9,186.5 l-2.4,6.9" stroke="#6a4a2c" stroke-width="2.3" opacity="0.45" stroke-linecap="round" filter="url(#b1)"/>
<path d="M239.4,202.9 l-2.9,8.2" stroke="#6a4a2c" stroke-width="2.3" opacity="0.45" stroke-linecap="round" filter="url(#b1)"/>
<path d="M231.4,225.0 l-2.4,6.9" stroke="#6a4a2c" stroke-width="1.7" opacity="0.45" stroke-linecap="round" filter="url(#b1)"/>
<path d="M236.6,200.5 l-4.5,12.9" stroke="#c8a078" stroke-width="1.6" opacity="0.45" stroke-linecap="round" filter="url(#b1)"/>
<path d="M264.5,217.0 l-4.0,11.3" stroke="#6a4a2c" stroke-width="2.0" opacity="0.45" stroke-linecap="round" filter="url(#b1)"/>
<path d="M262.7,200.8 l-5.0,14.3" stroke="#6a4a2c" stroke-width="2.2" opacity="0.45" stroke-linecap="round" filter="url(#b1)"/>
<path d="M222.0,242.0 L262.0,226.0 L310.0,206.0 L310.0,231.0 L222.0,256.0 Z" fill="#6e8e2a" opacity="0.7" filter="url(#b4)"/>
<path d="M222.4,205.0 L232.2,189.0 L247.0,185.4 L256.7,182.9 L278.8,175.6 L286.2,176.8 L303.3,182.9 L310.0,192.0 L305.8,201.3 L290.0,212.0 L261.7,222.0 L240.0,230.0 L225.0,236.0 Z" fill="none" stroke="#6e4a2a" stroke-width="2.5" opacity="0.7" filter="url(#b1)"/>
</g>
<clipPath id="mc3"><path d="M62.0,305.0 L75.0,298.0 L88.0,291.0 L100.0,278.0 L114.5,255.2 L125.0,238.0 L135.4,225.8 L142.7,224.6 L156.2,229.5 L162.3,228.3 L175.0,245.0 L190.5,262.6 L170.0,272.0 L150.0,280.0 L130.0,288.0 L110.0,297.0 L85.0,306.0 Z"/></clipPath>
<path d="M62.0,305.0 L75.0,298.0 L88.0,291.0 L100.0,278.0 L114.5,255.2 L125.0,238.0 L135.4,225.8 L142.7,224.6 L156.2,229.5 L162.3,228.3 L175.0,245.0 L190.5,262.6 L170.0,272.0 L150.0,280.0 L130.0,288.0 L110.0,297.0 L85.0,306.0 Z" fill="#9a7250"/>
<g clip-path="url(#mc3)">
<path d="M135.0,226.0 L143.0,225.0 L156.0,230.0 L168.0,262.0 L140.0,282.0 L128.0,260.0 Z" fill="#c49c74" opacity="0.75" filter="url(#b2)"/>
<path d="M100.0,278.0 L125.0,238.0 L135.0,228.0 L122.0,270.0 L102.0,296.0 Z" fill="#5e3e22" opacity="0.45" filter="url(#b2)"/>
<path d="M156.0,230.0 L163.0,229.0 L190.0,262.0 L170.0,270.0 Z" fill="#5e3e22" opacity="0.5" filter="url(#b2)"/>
<path d="M142.0,228.0 C142.3,231.3 144.3,240.7 144.0,248.0 C143.7,255.3 140.7,268.0 140.0,272.0" stroke="#e6cca8" stroke-width="3" opacity="0.6" fill="none" stroke-linecap="round" filter="url(#b1)"/>
<path d="M152.0,232.0 C153.3,235.8 158.7,251.2 160.0,255.0" stroke="#e6cca8" stroke-width="2.5" opacity="0.5" fill="none" stroke-linecap="round" filter="url(#b1)"/>
<path d="M83.2,280.7 l-4.3,12.3" stroke="#6a4a2c" stroke-width="2.8" opacity="0.45" stroke-linecap="round" filter="url(#b1)"/>
<path d="M189.2,263.2 l-5.5,15.6" stroke="#d8b890" stroke-width="2.3" opacity="0.45" stroke-linecap="round" filter="url(#b1)"/>
<path d="M92.3,224.9 l-3.4,9.7" stroke="#c8a078" stroke-width="2.1" opacity="0.45" stroke-linecap="round" filter="url(#b1)"/>
<path d="M80.6,285.8 l-5.3,15.2" stroke="#c8a078" stroke-width="1.6" opacity="0.45" stroke-linecap="round" filter="url(#b1)"/>
<path d="M190.2,284.7 l-5.2,14.8" stroke="#c8a078" stroke-width="2.2" opacity="0.45" stroke-linecap="round" filter="url(#b1)"/>
<path d="M184.9,268.6 l-4.5,12.9" stroke="#c8a078" stroke-width="2.9" opacity="0.45" stroke-linecap="round" filter="url(#b1)"/>
<path d="M109.3,237.2 l-5.0,14.2" stroke="#d8b890" stroke-width="2.7" opacity="0.45" stroke-linecap="round" filter="url(#b1)"/>
<path d="M64.5,237.7 l-4.6,13.3" stroke="#6a4a2c" stroke-width="2.2" opacity="0.45" stroke-linecap="round" filter="url(#b1)"/>
<path d="M86.0,227.6 l-5.1,14.7" stroke="#d8b890" stroke-width="1.6" opacity="0.45" stroke-linecap="round" filter="url(#b1)"/>
<path d="M87.4,279.4 l-4.9,14.0" stroke="#c8a078" stroke-width="2.6" opacity="0.45" stroke-linecap="round" filter="url(#b1)"/>
<path d="M160.0,271.9 l-4.7,13.3" stroke="#d8b890" stroke-width="2.3" opacity="0.45" stroke-linecap="round" filter="url(#b1)"/>
<path d="M133.8,256.2 l-3.3,9.4" stroke="#d8b890" stroke-width="2.8" opacity="0.45" stroke-linecap="round" filter="url(#b1)"/>
<path d="M114.6,254.3 l-3.7,10.5" stroke="#6a4a2c" stroke-width="2.0" opacity="0.45" stroke-linecap="round" filter="url(#b1)"/>
<path d="M124.3,246.2 l-5.0,14.3" stroke="#d8b890" stroke-width="2.6" opacity="0.45" stroke-linecap="round" filter="url(#b1)"/>
<path d="M80.0,306.0 L130.0,288.0 L195.0,268.0 L195.0,306.0 L80.0,326.0 Z" fill="#6e8e2a" opacity="0.7" filter="url(#b4)"/>
<path d="M62.0,305.0 L75.0,298.0 L88.0,291.0 L100.0,278.0 L114.5,255.2 L125.0,238.0 L135.4,225.8 L142.7,224.6 L156.2,229.5 L162.3,228.3 L175.0,245.0 L190.5,262.6 L170.0,272.0 L150.0,280.0 L130.0,288.0 L110.0,297.0 L85.0,306.0 Z" fill="none" stroke="#6e4a2a" stroke-width="2.5" opacity="0.7" filter="url(#b1)"/>
</g>
<clipPath id="mc4"><path d="M162.3,228.3 L170.0,215.0 L180.7,198.9 L190.0,192.0 L197.9,189.0 L205.3,192.7 L215.0,200.0 L222.4,205.0 L232.0,220.0 L238.0,232.0 L210.0,252.0 L202.8,255.0 L185.0,265.0 L175.0,250.0 Z"/></clipPath>
<path d="M162.3,228.3 L170.0,215.0 L180.7,198.9 L190.0,192.0 L197.9,189.0 L205.3,192.7 L215.0,200.0 L222.4,205.0 L232.0,220.0 L238.0,232.0 L210.0,252.0 L202.8,255.0 L185.0,265.0 L175.0,250.0 Z" fill="#9a7250"/>
<g clip-path="url(#mc4)">
<path d="M190.0,192.0 L198.0,189.0 L205.0,193.0 L212.0,240.0 L200.0,255.0 L190.0,240.0 Z" fill="#c49c74" opacity="0.75" filter="url(#b2)"/>
<path d="M170.0,215.0 L181.0,199.0 L190.0,193.0 L182.0,250.0 L172.0,248.0 Z" fill="#5e3e22" opacity="0.45" filter="url(#b2)"/>
<path d="M215.0,200.0 L222.0,205.0 L238.0,232.0 L215.0,250.0 L210.0,235.0 Z" fill="#5e3e22" opacity="0.6" filter="url(#b2)"/>
<path d="M198.0,193.0 C198.3,196.7 200.0,206.3 200.0,215.0 C200.0,223.7 198.3,240.0 198.0,245.0" stroke="#e6cca8" stroke-width="3" opacity="0.65" fill="none" stroke-linecap="round" filter="url(#b1)"/>
<path d="M206.0,196.0 C207.3,200.0 212.7,216.0 214.0,220.0" stroke="#e6cca8" stroke-width="2.5" opacity="0.5" fill="none" stroke-linecap="round" filter="url(#b1)"/>
<path d="M170.9,198.9 l-4.2,12.0" stroke="#d8b890" stroke-width="1.8" opacity="0.45" stroke-linecap="round" filter="url(#b1)"/>
<path d="M210.6,247.0 l-2.8,8.1" stroke="#d8b890" stroke-width="2.1" opacity="0.45" stroke-linecap="round" filter="url(#b1)"/>
<path d="M226.1,199.0 l-2.8,7.9" stroke="#d8b890" stroke-width="2.1" opacity="0.45" stroke-linecap="round" filter="url(#b1)"/>
<path d="M167.6,220.9 l-5.2,15.0" stroke="#c8a078" stroke-width="3.0" opacity="0.45" stroke-linecap="round" filter="url(#b1)"/>
<path d="M172.1,257.7 l-3.9,11.1" stroke="#c8a078" stroke-width="2.6" opacity="0.45" stroke-linecap="round" filter="url(#b1)"/>
<path d="M222.7,235.5 l-5.3,15.2" stroke="#6a4a2c" stroke-width="1.7" opacity="0.45" stroke-linecap="round" filter="url(#b1)"/>
<path d="M163.3,247.6 l-4.3,12.3" stroke="#6a4a2c" stroke-width="1.6" opacity="0.45" stroke-linecap="round" filter="url(#b1)"/>
<path d="M202.7,258.4 l-4.6,13.3" stroke="#c8a078" stroke-width="2.1" opacity="0.45" stroke-linecap="round" filter="url(#b1)"/>
<path d="M175.0,217.0 l-2.2,6.3" stroke="#6a4a2c" stroke-width="2.1" opacity="0.45" stroke-linecap="round" filter="url(#b1)"/>
<path d="M190.9,208.6 l-5.4,15.5" stroke="#c8a078" stroke-width="2.5" opacity="0.45" stroke-linecap="round" filter="url(#b1)"/>
<path d="M175.5,202.1 l-4.8,13.7" stroke="#d8b890" stroke-width="2.6" opacity="0.45" stroke-linecap="round" filter="url(#b1)"/>
<path d="M202.8,260.8 l-2.9,8.2" stroke="#d8b890" stroke-width="2.9" opacity="0.45" stroke-linecap="round" filter="url(#b1)"/>
<path d="M186.7,240.3 l-4.8,13.6" stroke="#6a4a2c" stroke-width="1.7" opacity="0.45" stroke-linecap="round" filter="url(#b1)"/>
<path d="M224.0,200.3 l-3.8,11.0" stroke="#d8b890" stroke-width="2.3" opacity="0.45" stroke-linecap="round" filter="url(#b1)"/>
<path d="M160.0,274.0 L200.0,258.0 L240.0,242.0 L240.0,276.0 L160.0,296.0 Z" fill="#6e8e2a" opacity="0.7" filter="url(#b4)"/>
<path d="M162.3,228.3 L170.0,215.0 L180.7,198.9 L190.0,192.0 L197.9,189.0 L205.3,192.7 L215.0,200.0 L222.4,205.0 L232.0,220.0 L238.0,232.0 L210.0,252.0 L202.8,255.0 L185.0,265.0 L175.0,250.0 Z" fill="none" stroke="#6e4a2a" stroke-width="2.5" opacity="0.7" filter="url(#b1)"/>
</g>
<clipPath id="mc5"><path d="M217.5,250.0 L224.0,232.0 L230.0,220.0 L237.0,212.3 L245.0,215.0 L256.0,222.0 L269.0,230.7 L250.0,242.0 L228.0,250.0 Z"/></clipPath>
<path d="M217.5,250.0 L224.0,232.0 L230.0,220.0 L237.0,212.3 L245.0,215.0 L256.0,222.0 L269.0,230.7 L250.0,242.0 L228.0,250.0 Z" fill="#9a7250"/>
<g clip-path="url(#mc5)">
<path d="M230.0,220.0 L237.0,212.0 L245.0,215.0 L250.0,240.0 L235.0,248.0 Z" fill="#c49c74" opacity="0.7" filter="url(#b2)"/>
<path d="M245.0,215.0 L269.0,231.0 L252.0,242.0 Z" fill="#5e3e22" opacity="0.5" filter="url(#b2)"/>
<path d="M237.0,216.0 C237.3,218.7 239.2,227.0 239.0,232.0 C238.8,237.0 236.5,243.7 236.0,246.0" stroke="#e6cca8" stroke-width="2.5" opacity="0.6" fill="none" stroke-linecap="round" filter="url(#b1)"/>
<path d="M245.8,240.6 l-4.7,13.5" stroke="#d8b890" stroke-width="1.9" opacity="0.45" stroke-linecap="round" filter="url(#b1)"/>
<path d="M267.2,233.7 l-4.7,13.5" stroke="#6a4a2c" stroke-width="2.5" opacity="0.45" stroke-linecap="round" filter="url(#b1)"/>
<path d="M259.0,247.0 l-5.4,15.3" stroke="#d8b890" stroke-width="2.0" opacity="0.45" stroke-linecap="round" filter="url(#b1)"/>
<path d="M266.7,212.7 l-4.6,13.2" stroke="#6a4a2c" stroke-width="2.6" opacity="0.45" stroke-linecap="round" filter="url(#b1)"/>
<path d="M235.1,231.0 l-2.2,6.2" stroke="#6a4a2c" stroke-width="1.6" opacity="0.45" stroke-linecap="round" filter="url(#b1)"/>
<path d="M235.1,233.6 l-3.8,10.8" stroke="#6a4a2c" stroke-width="1.6" opacity="0.45" stroke-linecap="round" filter="url(#b1)"/>
<path d="M225.8,215.2 l-5.3,15.1" stroke="#c8a078" stroke-width="2.6" opacity="0.45" stroke-linecap="round" filter="url(#b1)"/>
<path d="M240.2,243.0 l-3.2,9.2" stroke="#c8a078" stroke-width="2.1" opacity="0.45" stroke-linecap="round" filter="url(#b1)"/>
<path d="M231.1,234.7 l-5.5,15.7" stroke="#c8a078" stroke-width="2.3" opacity="0.45" stroke-linecap="round" filter="url(#b1)"/>
<path d="M219.8,243.4 l-2.5,7.1" stroke="#6a4a2c" stroke-width="2.3" opacity="0.45" stroke-linecap="round" filter="url(#b1)"/>
<path d="M222.5,226.5 l-5.1,14.5" stroke="#6a4a2c" stroke-width="2.1" opacity="0.45" stroke-linecap="round" filter="url(#b1)"/>
<path d="M217.9,246.6 l-4.6,13.2" stroke="#d8b890" stroke-width="2.7" opacity="0.45" stroke-linecap="round" filter="url(#b1)"/>
<path d="M259.4,213.0 l-4.4,12.7" stroke="#d8b890" stroke-width="1.7" opacity="0.45" stroke-linecap="round" filter="url(#b1)"/>
<path d="M253.5,213.2 l-4.5,13.0" stroke="#6a4a2c" stroke-width="2.4" opacity="0.45" stroke-linecap="round" filter="url(#b1)"/>
<path d="M215.0,258.0 L240.0,250.0 L270.0,238.0 L270.0,266.0 L215.0,276.0 Z" fill="#6e8e2a" opacity="0.7" filter="url(#b4)"/>
<path d="M217.5,250.0 L224.0,232.0 L230.0,220.0 L237.0,212.3 L245.0,215.0 L256.0,222.0 L269.0,230.7 L250.0,242.0 L228.0,250.0 Z" fill="none" stroke="#6e4a2a" stroke-width="2.5" opacity="0.7" filter="url(#b1)"/>
</g>
<path d="M1214.6,143.2 L1218.3,160.0 L1240.4,179.6 L1258.4,200.3 L1278.0,214.5 L1274.4,240.0 L1269.9,258.2 L1260.0,285.0 L1245.0,256.0 L1230.0,231.0 L1210.0,203.0 L1191.6,176.0 Z" fill="url(#gCliff)"/>
<path d="M1222,165 L1236,250" stroke="#d8b060" stroke-width="3" opacity="0.45" filter="url(#b2)"/>
<path d="M1240,185 L1252,265" stroke="#d8b060" stroke-width="3" opacity="0.45" filter="url(#b2)"/>
<path d="M1258,205 L1266,268" stroke="#d8b060" stroke-width="3" opacity="0.45" filter="url(#b2)"/>
<path d="M1208,175 L1220,230" stroke="#d8b060" stroke-width="3" opacity="0.45" filter="url(#b2)"/>
<path d="M1214.6,143.2 L1191.3,177.2" stroke="#c8a050" stroke-width="2" opacity="0.6"/>
<path d="M1214.6,143.2 L1276.1,141.9 L1297.4,126.8 L1311.5,133.0 L1324.0,122.4 L1350.5,138.3 L1357.6,130.4 L1382.4,150.7 L1338.0,177.3 L1278.0,214.5 L1258.4,200.3 L1240.4,179.6 L1218.3,160.0 Z" fill="#8cac2a"/>
<clipPath id="cGrR"><path d="M1214.6,143.2 L1276.1,141.9 L1297.4,126.8 L1311.5,133.0 L1324.0,122.4 L1350.5,138.3 L1357.6,130.4 L1382.4,150.7 L1338.0,177.3 L1278.0,214.5 L1258.4,200.3 L1240.4,179.6 L1218.3,160.0 Z"/></clipPath>
<g clip-path="url(#cGrR)">
<g transform="translate(960,-60) rotate(20 260 250)"><rect x="0" y="100" width="600" height="300" fill="#fff" filter="url(#grassHi)"/><rect x="0" y="100" width="600" height="300" fill="#fff" filter="url(#grassLo)" opacity="0.8"/></g>
<path d="M1215,143 L1258,200 L1278,214 L1285,205 L1250,180 L1225,145 Z" fill="#3e6a18" opacity="0.6" filter="url(#b2)"/>
<path d="M1276.9,184.4 l16.0,5.6" stroke="#a8c030" stroke-width="3.5" opacity="0.5" stroke-linecap="round" filter="url(#b1)"/>
<path d="M1339.6,174.0 l15.7,5.5" stroke="#c0cc38" stroke-width="4.2" opacity="0.5" stroke-linecap="round" filter="url(#b1)"/>
<path d="M1292.2,178.5 l15.9,5.6" stroke="#a8c030" stroke-width="4.9" opacity="0.5" stroke-linecap="round" filter="url(#b1)"/>
<path d="M1264.1,165.4 l10.5,3.7" stroke="#a8c030" stroke-width="2.7" opacity="0.5" stroke-linecap="round" filter="url(#b1)"/>
<path d="M1302.4,165.2 l12.9,4.5" stroke="#b4c430" stroke-width="2.5" opacity="0.5" stroke-linecap="round" filter="url(#b1)"/>
<path d="M1227.3,199.9 l14.1,4.9" stroke="#b4c430" stroke-width="5.0" opacity="0.5" stroke-linecap="round" filter="url(#b1)"/>
<path d="M1270.9,171.6 l15.9,5.6" stroke="#a8c030" stroke-width="3.8" opacity="0.5" stroke-linecap="round" filter="url(#b1)"/>
<path d="M1325.8,178.5 l19.7,6.9" stroke="#b4c430" stroke-width="3.9" opacity="0.5" stroke-linecap="round" filter="url(#b1)"/>
<path d="M1280.9,150.0 l15.3,5.4" stroke="#c0cc38" stroke-width="3.7" opacity="0.5" stroke-linecap="round" filter="url(#b1)"/>
<path d="M1266.1,146.8 l16.7,5.9" stroke="#a8c030" stroke-width="4.9" opacity="0.5" stroke-linecap="round" filter="url(#b1)"/>
<path d="M1299.6,166.4 l12.4,4.3" stroke="#c0cc38" stroke-width="4.2" opacity="0.5" stroke-linecap="round" filter="url(#b1)"/>
<path d="M1233.7,159.1 l12.4,4.3" stroke="#a8c030" stroke-width="2.6" opacity="0.5" stroke-linecap="round" filter="url(#b1)"/>
<path d="M1318.7,170.8 l14.2,5.0" stroke="#a8c030" stroke-width="4.2" opacity="0.5" stroke-linecap="round" filter="url(#b1)"/>
<path d="M1225.2,157.3 l15.3,5.4" stroke="#a8c030" stroke-width="2.9" opacity="0.5" stroke-linecap="round" filter="url(#b1)"/>
<path d="M1303.5,147.2 l11.3,4.0" stroke="#5a8a20" stroke-width="4.0" opacity="0.5" stroke-linecap="round" filter="url(#b1)"/>
<path d="M1307.1,175.8 l12.4,4.3" stroke="#5a8a20" stroke-width="3.2" opacity="0.5" stroke-linecap="round" filter="url(#b1)"/>
<path d="M1277.2,202.5 l13.8,4.8" stroke="#a8c030" stroke-width="3.7" opacity="0.5" stroke-linecap="round" filter="url(#b1)"/>
<path d="M1285.9,155.9 l17.2,6.0" stroke="#a8c030" stroke-width="4.8" opacity="0.5" stroke-linecap="round" filter="url(#b1)"/>
<path d="M1220.8,161.1 l17.2,6.0" stroke="#5a8a20" stroke-width="2.9" opacity="0.5" stroke-linecap="round" filter="url(#b1)"/>
<path d="M1315.4,175.1 l11.0,3.8" stroke="#b4c430" stroke-width="5.0" opacity="0.5" stroke-linecap="round" filter="url(#b1)"/>
<path d="M1339.8,175.2 l8.3,2.9" stroke="#5a8a20" stroke-width="4.7" opacity="0.5" stroke-linecap="round" filter="url(#b1)"/>
<path d="M1300.2,161.8 l9.4,3.3" stroke="#c0cc38" stroke-width="3.7" opacity="0.5" stroke-linecap="round" filter="url(#b1)"/>
<path d="M1262.4,186.1 l13.3,4.7" stroke="#a8c030" stroke-width="3.6" opacity="0.5" stroke-linecap="round" filter="url(#b1)"/>
<path d="M1294.0,147.8 l12.0,4.2" stroke="#c0cc38" stroke-width="4.3" opacity="0.5" stroke-linecap="round" filter="url(#b1)"/>
<path d="M1245.7,162.1 l11.1,3.9" stroke="#b4c430" stroke-width="4.2" opacity="0.5" stroke-linecap="round" filter="url(#b1)"/>
<path d="M1235.8,198.2 l13.0,4.6" stroke="#a8c030" stroke-width="3.0" opacity="0.5" stroke-linecap="round" filter="url(#b1)"/>
<path d="M1276.6,148.5 l14.8,5.2" stroke="#5a8a20" stroke-width="4.4" opacity="0.5" stroke-linecap="round" filter="url(#b1)"/>
<path d="M1270.1,180.3 l18.8,6.6" stroke="#a8c030" stroke-width="4.0" opacity="0.5" stroke-linecap="round" filter="url(#b1)"/>
<path d="M1261.7,167.1 l16.8,5.9" stroke="#a8c030" stroke-width="2.5" opacity="0.5" stroke-linecap="round" filter="url(#b1)"/>
<path d="M1305.2,199.2 l17.6,6.2" stroke="#b4c430" stroke-width="4.8" opacity="0.5" stroke-linecap="round" filter="url(#b1)"/>
<path d="M1284.2,192.3 l12.6,4.4" stroke="#b4c430" stroke-width="4.3" opacity="0.5" stroke-linecap="round" filter="url(#b1)"/>
<path d="M1242.7,161.2 l17.5,6.1" stroke="#c0cc38" stroke-width="4.1" opacity="0.5" stroke-linecap="round" filter="url(#b1)"/>
<path d="M1235.0,177.1 l16.4,5.7" stroke="#c0cc38" stroke-width="4.0" opacity="0.5" stroke-linecap="round" filter="url(#b1)"/>
<path d="M1228.6,166.3 l9.0,3.1" stroke="#5a8a20" stroke-width="2.9" opacity="0.5" stroke-linecap="round" filter="url(#b1)"/>
<path d="M1230.9,163.7 l16.3,5.7" stroke="#c0cc38" stroke-width="3.4" opacity="0.5" stroke-linecap="round" filter="url(#b1)"/>
<path d="M1223.6,174.3 l13.3,4.7" stroke="#a8c030" stroke-width="2.6" opacity="0.5" stroke-linecap="round" filter="url(#b1)"/>
<path d="M1291.3,172.4 l18.6,6.5" stroke="#b4c430" stroke-width="4.9" opacity="0.5" stroke-linecap="round" filter="url(#b1)"/>
<path d="M1220.9,166.6 l11.4,4.0" stroke="#a8c030" stroke-width="4.2" opacity="0.5" stroke-linecap="round" filter="url(#b1)"/>
<path d="M1255.5,176.0 l9.8,3.4" stroke="#5a8a20" stroke-width="2.9" opacity="0.5" stroke-linecap="round" filter="url(#b1)"/>
<path d="M1275.8,181.4 l18.1,6.3" stroke="#a8c030" stroke-width="3.7" opacity="0.5" stroke-linecap="round" filter="url(#b1)"/>
</g>
<clipPath id="mc6"><path d="M1266.0,152.0 L1276.1,141.9 L1297.4,126.8 L1311.5,133.0 L1306.0,150.0 L1290.0,160.0 L1275.0,163.0 Z"/></clipPath>
<path d="M1266.0,152.0 L1276.1,141.9 L1297.4,126.8 L1311.5,133.0 L1306.0,150.0 L1290.0,160.0 L1275.0,163.0 Z" fill="#9a7250"/>
<g clip-path="url(#mc6)">
<path d="M1276.0,142.0 L1297.0,127.0 L1300.0,150.0 L1282.0,160.0 Z" fill="#c49c74" opacity="0.6" filter="url(#b2)"/>
<path d="M1300.0,128.0 L1311.0,133.0 L1306.0,150.0 L1298.0,156.0 Z" fill="#5e3e22" opacity="0.5" filter="url(#b2)"/>
<path d="M1296.0,130.0 C1295.0,132.5 1292.3,140.7 1290.0,145.0 C1287.7,149.3 1283.3,154.2 1282.0,156.0" stroke="#e6cca8" stroke-width="2.5" opacity="0.6" fill="none" stroke-linecap="round" filter="url(#b1)"/>
<path d="M1295.1,127.7 l-3.1,8.8" stroke="#d8b890" stroke-width="1.7" opacity="0.45" stroke-linecap="round" filter="url(#b1)"/>
<path d="M1270.7,153.6 l-4.0,11.5" stroke="#c8a078" stroke-width="2.1" opacity="0.45" stroke-linecap="round" filter="url(#b1)"/>
<path d="M1267.4,134.7 l-3.9,11.1" stroke="#d8b890" stroke-width="2.3" opacity="0.45" stroke-linecap="round" filter="url(#b1)"/>
<path d="M1298.6,152.2 l-3.6,10.2" stroke="#6a4a2c" stroke-width="2.4" opacity="0.45" stroke-linecap="round" filter="url(#b1)"/>
<path d="M1302.8,127.0 l-4.9,14.1" stroke="#c8a078" stroke-width="2.1" opacity="0.45" stroke-linecap="round" filter="url(#b1)"/>
<path d="M1278.6,134.6 l-4.8,13.6" stroke="#d8b890" stroke-width="1.6" opacity="0.45" stroke-linecap="round" filter="url(#b1)"/>
<path d="M1270.4,157.5 l-4.2,12.0" stroke="#d8b890" stroke-width="2.6" opacity="0.45" stroke-linecap="round" filter="url(#b1)"/>
<path d="M1290.4,162.0 l-3.4,9.8" stroke="#c8a078" stroke-width="1.9" opacity="0.45" stroke-linecap="round" filter="url(#b1)"/>
<path d="M1294.6,158.9 l-3.4,9.6" stroke="#d8b890" stroke-width="2.6" opacity="0.45" stroke-linecap="round" filter="url(#b1)"/>
<path d="M1268.1,135.0 l-3.1,8.9" stroke="#d8b890" stroke-width="2.8" opacity="0.45" stroke-linecap="round" filter="url(#b1)"/>
<path d="M1305.4,140.6 l-3.7,10.5" stroke="#6a4a2c" stroke-width="1.7" opacity="0.45" stroke-linecap="round" filter="url(#b1)"/>
<path d="M1282.2,151.1 l-4.6,13.0" stroke="#c8a078" stroke-width="2.5" opacity="0.45" stroke-linecap="round" filter="url(#b1)"/>
<path d="M1293.7,133.0 l-4.7,13.3" stroke="#d8b890" stroke-width="2.2" opacity="0.45" stroke-linecap="round" filter="url(#b1)"/>
<path d="M1278.3,160.3 l-4.5,12.9" stroke="#d8b890" stroke-width="2.5" opacity="0.45" stroke-linecap="round" filter="url(#b1)"/>
<path d="M1262.0,174.0 L1300.0,158.0 L1320.0,156.0 L1320.0,181.0 L1262.0,188.0 Z" fill="#6e8e2a" opacity="0.7" filter="url(#b4)"/>
<path d="M1266.0,152.0 L1276.1,141.9 L1297.4,126.8 L1311.5,133.0 L1306.0,150.0 L1290.0,160.0 L1275.0,163.0 Z" fill="none" stroke="#6e4a2a" stroke-width="2.5" opacity="0.7" filter="url(#b1)"/>
</g>
<clipPath id="mc7"><path d="M1288.0,172.0 L1311.5,133.0 L1324.0,122.4 L1350.5,138.3 L1346.0,158.0 L1330.0,174.0 L1305.0,183.0 Z"/></clipPath>
<path d="M1288.0,172.0 L1311.5,133.0 L1324.0,122.4 L1350.5,138.3 L1346.0,158.0 L1330.0,174.0 L1305.0,183.0 Z" fill="#9a7250"/>
<g clip-path="url(#mc7)">
<path d="M1300.0,155.0 L1324.0,123.0 L1328.0,150.0 L1310.0,175.0 Z" fill="#c49c74" opacity="0.7" filter="url(#b2)"/>
<path d="M1326.0,124.0 L1350.0,138.0 L1346.0,156.0 L1330.0,170.0 Z" fill="#5e3e22" opacity="0.55" filter="url(#b2)"/>
<path d="M1322.0,127.0 C1320.3,130.8 1315.7,142.8 1312.0,150.0 C1308.3,157.2 1302.0,166.7 1300.0,170.0" stroke="#e6cca8" stroke-width="3" opacity="0.65" fill="none" stroke-linecap="round" filter="url(#b1)"/>
<path d="M1328.0,130.0 C1327.7,133.3 1326.3,146.7 1326.0,150.0" stroke="#e6cca8" stroke-width="2" opacity="0.5" fill="none" stroke-linecap="round" filter="url(#b1)"/>
<path d="M1292.2,147.4 l-2.5,7.1" stroke="#c8a078" stroke-width="2.3" opacity="0.45" stroke-linecap="round" filter="url(#b1)"/>
<path d="M1291.1,125.1 l-4.7,13.4" stroke="#d8b890" stroke-width="2.2" opacity="0.45" stroke-linecap="round" filter="url(#b1)"/>
<path d="M1290.8,155.5 l-2.9,8.2" stroke="#c8a078" stroke-width="1.9" opacity="0.45" stroke-linecap="round" filter="url(#b1)"/>
<path d="M1311.2,124.2 l-4.6,13.3" stroke="#d8b890" stroke-width="2.1" opacity="0.45" stroke-linecap="round" filter="url(#b1)"/>
<path d="M1311.5,169.2 l-3.0,8.7" stroke="#6a4a2c" stroke-width="2.9" opacity="0.45" stroke-linecap="round" filter="url(#b1)"/>
<path d="M1326.4,125.6 l-3.5,10.1" stroke="#c8a078" stroke-width="2.9" opacity="0.45" stroke-linecap="round" filter="url(#b1)"/>
<path d="M1300.9,169.1 l-2.3,6.7" stroke="#6a4a2c" stroke-width="2.3" opacity="0.45" stroke-linecap="round" filter="url(#b1)"/>
<path d="M1321.3,130.6 l-5.4,15.4" stroke="#6a4a2c" stroke-width="1.9" opacity="0.45" stroke-linecap="round" filter="url(#b1)"/>
<path d="M1315.3,159.5 l-4.5,12.9" stroke="#6a4a2c" stroke-width="2.6" opacity="0.45" stroke-linecap="round" filter="url(#b1)"/>
<path d="M1304.8,178.1 l-4.5,12.9" stroke="#d8b890" stroke-width="2.3" opacity="0.45" stroke-linecap="round" filter="url(#b1)"/>
<path d="M1297.3,134.5 l-2.4,6.8" stroke="#6a4a2c" stroke-width="1.6" opacity="0.45" stroke-linecap="round" filter="url(#b1)"/>
<path d="M1331.3,145.1 l-4.4,12.6" stroke="#6a4a2c" stroke-width="2.8" opacity="0.45" stroke-linecap="round" filter="url(#b1)"/>
<path d="M1340.7,151.2 l-4.8,13.6" stroke="#6a4a2c" stroke-width="2.6" opacity="0.45" stroke-linecap="round" filter="url(#b1)"/>
<path d="M1297.9,149.0 l-5.5,15.7" stroke="#d8b890" stroke-width="2.6" opacity="0.45" stroke-linecap="round" filter="url(#b1)"/>
<path d="M1285.0,192.0 L1330.0,176.0 L1350.0,168.0 L1350.0,198.0 L1285.0,208.0 Z" fill="#6e8e2a" opacity="0.7" filter="url(#b4)"/>
<path d="M1288.0,172.0 L1311.5,133.0 L1324.0,122.4 L1350.5,138.3 L1346.0,158.0 L1330.0,174.0 L1305.0,183.0 Z" fill="none" stroke="#6e4a2a" stroke-width="2.5" opacity="0.7" filter="url(#b1)"/>
</g>
<clipPath id="mc8"><path d="M1318.0,186.0 L1350.5,138.3 L1357.6,130.4 L1382.4,150.7 L1400.0,159.6 L1400.0,172.0 L1380.0,174.0 L1348.0,184.0 Z"/></clipPath>
<path d="M1318.0,186.0 L1350.5,138.3 L1357.6,130.4 L1382.4,150.7 L1400.0,159.6 L1400.0,172.0 L1380.0,174.0 L1348.0,184.0 Z" fill="#9a7250"/>
<g clip-path="url(#mc8)">
<path d="M1335.0,160.0 L1357.0,131.0 L1362.0,150.0 L1345.0,178.0 Z" fill="#c49c74" opacity="0.7" filter="url(#b2)"/>
<path d="M1360.0,133.0 L1382.0,151.0 L1400.0,160.0 L1400.0,172.0 L1362.0,165.0 Z" fill="#5e3e22" opacity="0.55" filter="url(#b2)"/>
<path d="M1356.0,134.0 C1354.7,137.5 1351.3,148.2 1348.0,155.0 C1344.7,161.8 1338.0,171.7 1336.0,175.0" stroke="#e6cca8" stroke-width="3" opacity="0.65" fill="none" stroke-linecap="round" filter="url(#b1)"/>
<path d="M1397.2,161.5 l-3.8,10.7" stroke="#c8a078" stroke-width="2.0" opacity="0.45" stroke-linecap="round" filter="url(#b1)"/>
<path d="M1362.5,182.2 l-4.6,13.1" stroke="#d8b890" stroke-width="2.1" opacity="0.45" stroke-linecap="round" filter="url(#b1)"/>
<path d="M1323.6,166.2 l-5.6,15.9" stroke="#d8b890" stroke-width="1.5" opacity="0.45" stroke-linecap="round" filter="url(#b1)"/>
<path d="M1365.0,133.4 l-4.1,11.8" stroke="#d8b890" stroke-width="2.1" opacity="0.45" stroke-linecap="round" filter="url(#b1)"/>
<path d="M1320.5,139.1 l-5.3,15.0" stroke="#d8b890" stroke-width="1.6" opacity="0.45" stroke-linecap="round" filter="url(#b1)"/>
<path d="M1334.1,142.6 l-2.7,7.8" stroke="#6a4a2c" stroke-width="1.7" opacity="0.45" stroke-linecap="round" filter="url(#b1)"/>
<path d="M1373.0,133.9 l-2.9,8.1" stroke="#c8a078" stroke-width="1.8" opacity="0.45" stroke-linecap="round" filter="url(#b1)"/>
<path d="M1332.4,161.0 l-4.7,13.4" stroke="#6a4a2c" stroke-width="1.5" opacity="0.45" stroke-linecap="round" filter="url(#b1)"/>
<path d="M1373.3,162.8 l-2.1,6.0" stroke="#c8a078" stroke-width="2.5" opacity="0.45" stroke-linecap="round" filter="url(#b1)"/>
<path d="M1361.2,135.9 l-3.8,11.0" stroke="#c8a078" stroke-width="2.0" opacity="0.45" stroke-linecap="round" filter="url(#b1)"/>
<path d="M1383.0,141.2 l-3.7,10.6" stroke="#6a4a2c" stroke-width="2.5" opacity="0.45" stroke-linecap="round" filter="url(#b1)"/>
<path d="M1374.0,142.2 l-3.3,9.4" stroke="#c8a078" stroke-width="2.2" opacity="0.45" stroke-linecap="round" filter="url(#b1)"/>
<path d="M1318.8,147.2 l-4.1,11.8" stroke="#6a4a2c" stroke-width="1.5" opacity="0.45" stroke-linecap="round" filter="url(#b1)"/>
<path d="M1328.7,164.0 l-3.1,8.9" stroke="#c8a078" stroke-width="1.7" opacity="0.45" stroke-linecap="round" filter="url(#b1)"/>
<path d="M1315.0,203.0 L1350.0,189.0 L1400.0,178.0 L1400.0,211.0 L1315.0,218.0 Z" fill="#6e8e2a" opacity="0.7" filter="url(#b4)"/>
<path d="M1318.0,186.0 L1350.5,138.3 L1357.6,130.4 L1382.4,150.7 L1400.0,159.6 L1400.0,172.0 L1380.0,174.0 L1348.0,184.0 Z" fill="none" stroke="#6e4a2a" stroke-width="2.5" opacity="0.7" filter="url(#b1)"/>
</g>
<path d="M1262.5,202 Q1256,206 1252.7,211.5 Q1248,220 1245.3,228.7 L1235.5,253.3 L1232,260 L1235,261 L1239,254 L1249,229 Q1252,220 1256,213 Q1260,207 1265,203 Z" fill="#7a5a30"/>
<path d="M1262,202 L1310,198" stroke="#5a8a20" stroke-width="1.5" opacity="0.6"/>
<path d="M777.0,143.0 C777.2,140.7 778.5,138.5 780.0,137.0 C781.5,135.5 784.0,135.0 786.0,134.0 C788.0,133.0 789.7,131.3 792.0,131.0 C794.3,130.7 797.7,132.3 800.0,132.0 C802.3,131.7 803.7,129.2 806.0,129.0 C808.3,128.8 811.5,130.7 814.0,131.0 C816.5,131.3 818.7,130.3 821.0,131.0 C823.3,131.7 825.5,134.2 828.0,135.0 C830.5,135.8 833.3,135.2 836.0,136.0 C838.7,136.8 842.3,138.5 844.0,140.0 C845.7,141.5 846.7,143.5 846.0,145.0 C845.3,146.5 841.7,147.5 840.0,149.0 C838.3,150.5 837.3,152.2 836.0,154.0 C834.7,155.8 833.2,157.7 832.0,160.0 C830.8,162.3 830.5,165.7 829.0,168.0 C827.5,170.3 824.8,172.0 823.0,174.0 C821.2,176.0 819.3,177.8 818.0,180.0 C816.7,182.2 818.0,185.8 815.0,187.0 C812.0,188.2 803.0,188.2 800.0,187.0 C797.0,185.8 798.5,182.3 797.0,180.0 C795.5,177.7 792.7,175.5 791.0,173.0 C789.3,170.5 788.2,167.7 787.0,165.0 C785.8,162.3 785.3,159.3 784.0,157.0 C782.7,154.7 780.2,153.3 779.0,151.0 C777.8,148.7 776.8,145.3 777.0,143.0 Z" fill="#c8d0d6" opacity="0.9" filter="url(#b2)"/>
<path d="M779.6,143.8 C779.8,141.6 781.0,139.6 782.4,138.2 C783.8,136.7 786.1,136.2 787.9,135.3 C789.8,134.4 791.3,132.8 793.4,132.4 C795.6,132.1 798.7,133.7 800.8,133.4 C802.9,133.1 804.2,130.7 806.3,130.6 C808.5,130.4 811.4,132.1 813.7,132.4 C816.0,132.8 818.0,131.8 820.1,132.4 C822.3,133.1 824.3,135.5 826.6,136.2 C828.9,137.0 831.5,136.4 833.9,137.2 C836.4,138.0 839.7,139.6 841.3,141.0 C842.8,142.4 843.7,144.3 843.1,145.8 C842.5,147.2 839.1,148.1 837.6,149.5 C836.1,151.0 835.1,152.6 833.9,154.3 C832.7,156.0 831.3,157.8 830.2,160.0 C829.2,162.2 828.9,165.4 827.5,167.6 C826.1,169.8 823.6,171.4 822.0,173.3 C820.3,175.2 818.6,176.9 817.4,179.0 C816.1,181.1 817.4,184.5 814.6,185.7 C811.8,186.8 803.6,186.8 800.8,185.7 C798.0,184.5 799.4,181.2 798.0,179.0 C796.7,176.8 794.1,174.7 792.5,172.3 C791.0,170.0 789.9,167.3 788.8,164.8 C787.8,162.2 787.3,159.4 786.1,157.2 C784.9,154.9 782.6,153.7 781.5,151.4 C780.4,149.2 779.5,146.1 779.6,143.8 Z" fill="#9ea6ac" filter="url(#smokeTex)"/>
<path d="M801,186 Q798.0,180 795,174" stroke="#5a6268" stroke-width="1" opacity="0.7" fill="none"/>
<path d="M804,186 Q802.5,180 801,174" stroke="#5a6268" stroke-width="1" opacity="0.7" fill="none"/>
<path d="M807,186 Q807.0,180 807,174" stroke="#5a6268" stroke-width="1" opacity="0.7" fill="none"/>
<path d="M810,186 Q811.5,180 813,174" stroke="#5a6268" stroke-width="1" opacity="0.7" fill="none"/>
<path d="M813,186 Q816.0,180 819,174" stroke="#5a6268" stroke-width="1" opacity="0.7" fill="none"/>
<path d="M683.9,184.9 Q688,176 692,171 Q695,168 698,168.5 Q703,170 709,175 Q715,180 718.2,183 Q712,186 708,186 Q704,187 701,191 Q699,192 697,191 Q693,187 689,187 Q686,186 683.9,184.9 Z" fill="#e2b040"/>
<path d="M690,174 Q696,170 702,172 Q698,180 697,190 Q692,186 688,184 Z" fill="#f0cc68" opacity="0.8" filter="url(#b1)"/>
<path d="M799.8,187.5 L814.8,187.5 Q816,194 819.4,201.5 Q812,205 805.5,205 Q798,204.5 792.8,202.6 Q797,195 799.8,187.5 Z" fill="#e6b648"/>
<path d="M801,189 L806,189 Q804,196 800,203 Q796,202 794,201 Q799,195 801,189 Z" fill="#f2d070" opacity="0.8" filter="url(#b1)"/>
<path d="M43.0,569.0 C50.6,568.9 83.9,568.3 100.0,568.0 C116.1,567.7 142.7,566.3 164.0,567.0 C185.3,567.7 239.7,571.9 260.0,573.0 C280.3,574.1 301.2,575.5 316.0,575.3 C330.8,575.1 354.5,572.9 371.0,571.7 C387.5,570.5 418.4,567.2 440.0,566.0 C461.6,564.8 509.0,563.1 533.0,563.0 C557.0,562.9 595.1,564.7 620.0,565.0 C644.9,565.3 696.0,565.1 720.0,565.0 C744.0,564.9 780.0,564.3 800.0,564.0 C820.0,563.7 857.9,563.4 870.0,563.0 C882.1,562.6 886.3,562.5 891.0,561.0 C895.7,559.5 901.9,553.9 905.0,552.0 C908.1,550.1 911.3,547.1 914.0,547.0 C916.7,546.9 921.4,549.8 925.0,551.0 C928.6,552.2 932.1,555.0 940.8,556.0 C949.5,557.0 973.6,558.2 990.0,558.5 C1006.4,558.8 1048.8,557.7 1063.5,558.5 C1078.2,559.3 1092.8,562.5 1100.3,564.6 C1107.8,566.7 1115.7,571.1 1120.0,574.4 C1124.3,577.7 1130.2,586.7 1132.2,589.0 C1134.2,591.3 1134.6,591.6 1135.0,592.0 L43,592 Z" fill="#d01c22"/>
<clipPath id="cMagL"><path d="M43.0,569.0 C50.6,568.9 83.9,568.3 100.0,568.0 C116.1,567.7 142.7,566.3 164.0,567.0 C185.3,567.7 239.7,571.9 260.0,573.0 C280.3,574.1 301.2,575.5 316.0,575.3 C330.8,575.1 354.5,572.9 371.0,571.7 C387.5,570.5 418.4,567.2 440.0,566.0 C461.6,564.8 509.0,563.1 533.0,563.0 C557.0,562.9 595.1,564.7 620.0,565.0 C644.9,565.3 696.0,565.1 720.0,565.0 C744.0,564.9 780.0,564.3 800.0,564.0 C820.0,563.7 857.9,563.4 870.0,563.0 C882.1,562.6 886.3,562.5 891.0,561.0 C895.7,559.5 901.9,553.9 905.0,552.0 C908.1,550.1 911.3,547.1 914.0,547.0 C916.7,546.9 921.4,549.8 925.0,551.0 C928.6,552.2 932.1,555.0 940.8,556.0 C949.5,557.0 973.6,558.2 990.0,558.5 C1006.4,558.8 1048.8,557.7 1063.5,558.5 C1078.2,559.3 1092.8,562.5 1100.3,564.6 C1107.8,566.7 1115.7,571.1 1120.0,574.4 C1124.3,577.7 1130.2,586.7 1132.2,589.0 C1134.2,591.3 1134.6,591.6 1135.0,592.0 L43,592 Z"/></clipPath>
<g clip-path="url(#cMagL)">
<path d="M120,592 Q300,586 450,580 Q520,574 600,573 L880,571 Q910,562 930,568 L1070,568 Q1100,572 1115,585 L1120,600 L100,600 Z" fill="#ec6a22" filter="url(#b2)"/>
<path d="M480,590 Q560,580 640,578 L880,576 Q915,570 940,575 L1060,575 Q1090,578 1100,590 Z" fill="#f28a2a" opacity="0.9" filter="url(#b4)"/>
<path d="M300,592 Q400,588 480,586 L1080,586 L1100,592 Z" fill="#f08028" opacity="0.6" filter="url(#b2)"/>
<path d="M43.0,569.0 C50.6,568.9 83.9,568.3 100.0,568.0 C116.1,567.7 142.7,566.3 164.0,567.0 C185.3,567.7 239.7,571.9 260.0,573.0 C280.3,574.1 301.2,575.5 316.0,575.3 C330.8,575.1 354.5,572.9 371.0,571.7 C387.5,570.5 418.4,567.2 440.0,566.0 C461.6,564.8 509.0,563.1 533.0,563.0 C557.0,562.9 595.1,564.7 620.0,565.0 C644.9,565.3 696.0,565.1 720.0,565.0 C744.0,564.9 780.0,564.3 800.0,564.0 C820.0,563.7 857.9,563.4 870.0,563.0 C882.1,562.6 886.3,562.5 891.0,561.0 C895.7,559.5 901.9,553.9 905.0,552.0 C908.1,550.1 911.3,547.1 914.0,547.0 C916.7,546.9 921.4,549.8 925.0,551.0 C928.6,552.2 932.1,555.0 940.8,556.0 C949.5,557.0 973.6,558.2 990.0,558.5 C1006.4,558.8 1048.8,557.7 1063.5,558.5 C1078.2,559.3 1092.8,562.5 1100.3,564.6 C1107.8,566.7 1115.7,571.1 1120.0,574.4 C1124.3,577.7 1130.2,586.7 1132.2,589.0 C1134.2,591.3 1134.6,591.6 1135.0,592.0" fill="none" stroke="#9c1218" stroke-width="5" opacity="0.85" filter="url(#b1)"/>
<path d="M600,583 Q700,580 800,582" stroke="#e05020" stroke-width="2" opacity="0.5" fill="none" filter="url(#b1)"/>
</g>
<path d="M1159.0,592.0 C1160.0,589.3 1163.5,576.1 1166.5,572.0 C1169.5,567.9 1175.3,563.0 1181.2,561.0 C1187.1,559.0 1204.1,558.0 1210.6,557.3 C1217.1,556.6 1204.7,556.2 1230.0,556.0 C1255.3,555.8 1377.3,556.0 1400.0,556.0 L1400,592 Z" fill="#d81e24"/>
<clipPath id="cMagR"><path d="M1159.0,592.0 C1160.0,589.3 1163.5,576.1 1166.5,572.0 C1169.5,567.9 1175.3,563.0 1181.2,561.0 C1187.1,559.0 1204.1,558.0 1210.6,557.3 C1217.1,556.6 1204.7,556.2 1230.0,556.0 C1255.3,555.8 1377.3,556.0 1400.0,556.0 L1400,592 Z"/></clipPath>
<g clip-path="url(#cMagR)">
<path d="M1170,580 Q1190,566 1240,564 L1300,564 Q1340,566 1360,572 Q1320,580 1260,581 Q1200,584 1170,580 Z" fill="#ec6a22" filter="url(#b2)"/>
<path d="M1200,574 Q1240,568 1290,568 Q1320,570 1330,573 Q1290,577 1240,577 Z" fill="#f28a2a" opacity="0.8" filter="url(#b2)"/>
<path d="M1159.0,592.0 C1160.0,589.3 1163.5,576.1 1166.5,572.0 C1169.5,567.9 1175.3,563.0 1181.2,561.0 C1187.1,559.0 1204.1,558.0 1210.6,557.3 C1217.1,556.6 1204.7,556.2 1230.0,556.0 C1255.3,555.8 1377.3,556.0 1400.0,556.0" fill="none" stroke="#a01418" stroke-width="5" opacity="0.8" filter="url(#b1)"/>
<rect x="1150" y="588" width="260" height="6" fill="#e02028" opacity="0.7" filter="url(#b1)"/>
</g>
<g fill="none" stroke="#111" stroke-width="2" stroke-linejoin="miter">
<polyline points="163.2,128 282.4,128 319.7,203"/>
<polyline points="395,128 514.7,128 521,203"/>
<polyline points="562,128 678.6,128 586,226"/>
<polyline points="716,128 819.2,128 714,256"/>
<polyline points="1033,128 863.7,128 809,197"/>
<polyline points="985,170 898.6,170 752,307"/>
<polyline points="1266,128 1054,128 1178,328"/>
<polyline points="62.4,669.5 303.2,669.5 332.4,431.1"/>
<polyline points="351,669.5 592,669.5 620.7,431"/>
<polyline points="677.3,669.7 872,669.7 889,460"/>
<polyline points="1040,669.7 923,669.7 918,530"/>
<polyline points="1163.5,669.7 1074,669.7 1050,575"/>
<polyline points="1305,669.7 1208.5,669.7 1146.7,574.6"/>
</g>
<text x="161.5" y="119.4" textLength="122.0" lengthAdjust="spacingAndGlyphs">Kontinents</text>
<text x="394.5" y="119.4" textLength="52.5" lengthAdjust="spacingAndGlyphs">Šelfs</text>
<text x="556.5" y="90.60000000000001" textLength="123.0" lengthAdjust="spacingAndGlyphs">Kontinenta</text>
<text x="556.5" y="119.5" textLength="80.5" lengthAdjust="spacingAndGlyphs">nogāze</text>
<text x="719.5" y="90.60000000000001" textLength="119.0" lengthAdjust="spacingAndGlyphs">Zemūdens</text>
<text x="718.5" y="119.5" textLength="60.0" lengthAdjust="spacingAndGlyphs">kalns</text>
<text x="865.0" y="119.2" textLength="167.5" lengthAdjust="spacingAndGlyphs">Vulkāniska sala</text>
<text x="911.0" y="163.9" textLength="77.0" lengthAdjust="spacingAndGlyphs">Gaijots</text>
<text x="1055.0" y="119.2" textLength="212.0" lengthAdjust="spacingAndGlyphs">Zemūdens kanjons</text>
<text x="62.5" y="661.6" textLength="238.0" lengthAdjust="spacingAndGlyphs">Kontinenta pacēlums</text>
<text x="357.5" y="661.6" textLength="231.5" lengthAdjust="spacingAndGlyphs">Dziļūdens līdzenums</text>
<text x="678.0" y="632.3" textLength="185.0" lengthAdjust="spacingAndGlyphs">Vidusokeāniskās</text>
<text x="677.0" y="660.9" textLength="77.5" lengthAdjust="spacingAndGlyphs">grēdas</text>
<text x="928.0" y="661.6" textLength="115.5" lengthAdjust="spacingAndGlyphs">Rifta ieleja</text>
<text x="1080.0" y="661.6" textLength="83.5" lengthAdjust="spacingAndGlyphs">Magma</text>
<text x="1212.0" y="661.6" textLength="94.0" lengthAdjust="spacingAndGlyphs">Dziļvaga</text>
</svg>
</body></html>
